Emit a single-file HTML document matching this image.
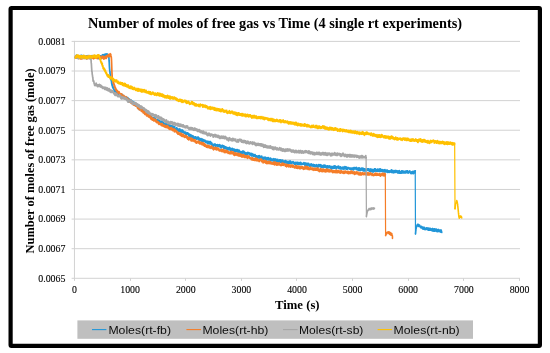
<!DOCTYPE html>
<html lang="en">
<head>
<meta charset="utf-8">
<title>Number of moles of free gas vs Time</title>
<style>
html,body{margin:0;padding:0;background:#fff;}
body{width:550px;height:353px;overflow:hidden;}
svg{display:block;}
.serif{font-family:"Liberation Serif",serif;}
.sans{font-family:"Liberation Sans",sans-serif;}
</style>
</head>
<body>
<svg width="550" height="353" viewBox="0 0 550 353">
<rect x="0" y="0" width="550" height="353" fill="#ffffff"/>
<rect x="10.6" y="8" width="529.3" height="337.9" rx="0.9" ry="0.9" fill="#ffffff" stroke="#000000" stroke-width="4.2"/>
<g stroke="#d2d2d2" stroke-width="1" fill="none">
<line x1="71.6" y1="41.4" x2="520.0" y2="41.4"/>
<line x1="71.6" y1="71.01" x2="520.0" y2="71.01"/>
<line x1="71.6" y1="100.62" x2="520.0" y2="100.62"/>
<line x1="71.6" y1="130.24" x2="520.0" y2="130.24"/>
<line x1="71.6" y1="159.85" x2="520.0" y2="159.85"/>
<line x1="71.6" y1="189.46" x2="520.0" y2="189.46"/>
<line x1="71.6" y1="219.08" x2="520.0" y2="219.08"/>
<line x1="71.6" y1="248.69" x2="520.0" y2="248.69"/>
<line x1="71.6" y1="278.3" x2="520.0" y2="278.3"/>
<line x1="74.45" y1="40.9" x2="74.45" y2="278.8"/>
<line x1="74.5" y1="278.3" x2="74.5" y2="280.9"/>
<line x1="130.5" y1="278.3" x2="130.5" y2="280.9"/>
<line x1="185.5" y1="278.3" x2="185.5" y2="280.9"/>
<line x1="241.5" y1="278.3" x2="241.5" y2="280.9"/>
<line x1="296.5" y1="278.3" x2="296.5" y2="280.9"/>
<line x1="352.5" y1="278.3" x2="352.5" y2="280.9"/>
<line x1="408.5" y1="278.3" x2="408.5" y2="280.9"/>
<line x1="463.5" y1="278.3" x2="463.5" y2="280.9"/>
<line x1="519.5" y1="278.3" x2="519.5" y2="280.9"/>
</g>
<g fill="none" stroke-width="1.7" stroke-linejoin="round" stroke-linecap="round">
<polyline points="75.40,57.4 75.57,58.1 75.74,57.6 75.91,56.0 76.08,56.0 76.25,57.4 76.42,55.1 76.59,57.3 76.76,57.3 76.93,56.5 77.10,56.2 77.27,56.3 77.44,56.3 77.61,56.9 77.78,57.1 77.95,57.3 78.12,58.5 78.29,58.0 78.46,57.5 78.63,58.5 78.80,56.6 78.97,56.5 79.14,57.7 79.31,56.2 79.48,56.2 79.65,57.4 79.82,57.2 79.99,58.3 80.16,57.5 80.33,57.2 80.50,57.1 80.67,56.3 80.84,55.6 81.01,56.0 81.18,57.2 81.35,55.8 81.52,56.2 81.69,55.3 81.86,57.5 82.03,55.7 82.20,56.1 82.37,57.7 82.54,56.7 82.71,57.5 82.88,56.9 83.05,57.2 83.22,55.5 83.39,56.7 83.56,56.7 83.73,57.7 83.90,56.5 84.07,57.2 84.24,55.9 84.41,56.8 84.58,56.6 84.75,56.2 84.92,57.9 85.09,56.8 85.26,58.4 85.43,57.5 85.60,57.5 85.77,57.6 85.94,57.7 86.11,56.3 86.28,57.0 86.45,56.4 86.62,56.7 86.79,55.9 86.96,58.1 87.13,56.1 87.30,57.2 87.47,56.2 87.64,57.6 87.81,57.1 87.98,55.7 88.15,57.7 88.32,58.1 88.49,58.0 88.66,57.2 88.83,56.1 89.00,56.1 89.17,58.0 89.34,57.0 89.51,56.1 89.68,58.0 89.85,57.5 90.02,57.4 90.19,57.1 90.36,57.3 90.53,56.9 90.70,56.4 90.87,58.6 91.04,57.4 91.21,57.5 91.38,56.8 91.55,57.8 91.72,55.8 91.89,56.6 92.06,55.7 92.23,55.9 92.40,58.1 92.57,57.3 92.74,56.6 92.91,56.7 93.08,57.6 93.25,56.1 93.42,56.7 93.59,57.0 93.76,56.1 93.93,56.6 94.10,57.3 94.27,57.8 94.44,55.9 94.61,58.0 94.78,55.7 94.95,57.7 95.12,58.0 95.29,56.2 95.46,57.0 95.63,58.1 95.80,56.0 95.97,57.7 96.14,58.1 96.31,57.4 96.48,58.0 96.65,56.6 96.82,56.5 96.99,56.8 97.16,56.2 97.33,56.6 97.50,58.1 97.67,57.1 97.84,56.6 98.01,56.5 98.18,58.3 98.35,57.1 98.52,58.6 98.69,57.5 98.86,57.5 99.03,58.5 99.20,58.0 99.37,57.5 99.54,57.0 99.71,58.1 99.88,56.9 100.05,58.2 100.22,55.9 100.39,56.9 100.56,57.1 100.73,58.1 100.90,56.2 101.07,57.6 101.24,57.2 101.41,57.2 101.58,56.9 101.75,57.7 101.92,55.9 102.09,56.0 102.26,55.4 102.43,54.8 102.60,55.2 102.77,56.9 102.94,56.6 103.11,54.6 103.28,55.7 103.45,55.3 103.62,55.6 103.79,55.8 103.96,54.9 104.13,56.6 104.30,55.3 104.47,55.7 104.64,55.7 104.81,54.5 104.98,54.1 105.15,55.0 105.32,55.9 105.49,56.0 105.66,55.7 105.83,54.1 106.00,56.1 106.17,55.8 106.34,55.9 106.51,55.0 106.68,56.1 106.85,53.9 107.02,53.9 107.19,54.1 107.36,54.8 107.53,55.0 107.70,55.0 107.87,56.2 108.04,54.9 108.21,56.6 108.38,55.8 108.55,57.5 108.72,56.3 108.89,57.6 109.06,60.7 109.23,62.4 109.40,66.3 109.57,68.6 109.74,70.4 109.91,71.1 110.08,73.8 110.25,74.0 110.42,77.3 110.59,78.9 110.76,79.6 110.93,78.4 111.10,80.0 111.27,80.7 111.44,80.9 111.61,82.9 111.78,84.0 111.95,83.4 112.12,85.5 112.29,86.0 112.46,84.8 112.63,87.0 112.80,87.8 112.97,86.4 113.14,87.7 113.31,88.2 113.48,88.4 113.65,87.5 113.82,89.3 113.99,89.7 114.16,90.6 114.33,90.9 114.50,90.0 114.67,91.3 114.84,91.8 115.01,92.1 115.18,90.3 115.35,90.0 115.52,91.8 115.69,90.8 115.86,91.9 116.03,93.2 116.20,92.0 116.37,91.9 116.54,92.6 116.71,93.2 116.88,91.9 117.05,92.7 117.22,92.1 117.39,93.6 117.56,94.1 117.73,93.1 117.90,93.2 118.07,93.8 118.24,93.1 118.41,93.3 118.58,93.7 118.75,94.2 118.92,93.4 119.09,95.2 119.26,95.0 119.43,94.4 119.60,93.9 119.77,95.8 119.94,94.2 120.11,94.1 120.28,94.1 120.45,93.9 120.62,96.0 120.79,94.3 120.96,94.4 121.13,95.8 121.30,95.3 121.47,94.3 121.64,95.0 121.81,96.3 121.98,95.1 122.15,96.1 122.32,94.7 122.49,96.5 122.66,96.8 122.83,97.1 123.00,96.8 123.17,96.2 123.34,95.5 123.51,96.8 123.68,97.5 123.85,96.2 124.02,96.5 124.19,97.4 124.36,98.0 124.53,98.5 124.70,96.6 124.87,96.8 125.04,98.4 125.21,97.9 125.38,98.1 125.55,98.8 125.72,98.6 125.89,98.3 126.06,98.2 126.23,97.4 126.40,98.2 126.57,97.3 126.74,99.0 126.91,99.2 127.08,99.3 127.25,98.6 127.42,98.4 127.59,98.5 127.76,97.5 127.93,99.6 128.10,98.9 128.27,98.6 128.44,99.1 128.61,99.8 128.78,99.1 128.95,100.4 129.12,100.8 129.29,99.6 129.46,99.0 129.63,100.8 129.80,101.5 129.97,99.5 130.14,101.1 130.31,101.5 130.48,101.9 130.65,99.9 130.82,99.9 130.99,102.3 131.16,100.1 131.33,100.4 131.50,101.6 131.67,101.5 131.84,102.5 132.01,101.2 132.18,103.3 132.35,101.7 132.52,103.3 132.69,101.6 132.86,102.7 133.03,101.7 133.20,102.4 133.37,102.5 133.54,103.6 133.71,103.0 133.88,102.0 134.05,104.5 134.22,104.3 134.39,104.4 134.56,102.7 134.73,103.2 134.90,103.0 135.07,102.9 135.24,103.0 135.41,104.4 135.58,103.7 135.75,104.0 135.92,105.9 136.09,105.1 136.26,104.4 136.43,105.8 136.60,105.0 136.77,105.9 136.94,105.4 137.11,106.2 137.28,106.7 137.45,106.6 137.62,106.4 137.79,107.5 137.96,107.9 138.13,106.2 138.30,106.2 138.47,106.3 138.64,108.8 138.81,108.9 138.98,107.2 139.15,109.4 139.32,107.6 139.49,108.5 139.66,108.6 139.83,109.7 140.00,107.4 140.17,108.1 140.34,108.8 140.51,107.4 140.68,107.9 140.85,108.5 141.02,109.7 141.19,109.5 141.36,109.8 141.53,109.9 141.70,110.0 141.87,110.6 142.04,110.5 142.21,110.9 142.38,109.8 142.55,109.5 142.72,111.0 142.89,109.5 143.06,111.5 143.23,110.8 143.40,110.3 143.57,112.2 143.74,110.5 143.91,111.6 144.08,110.7 144.25,113.1 144.42,112.2 144.59,112.9 144.76,111.6 144.93,113.1 145.10,113.0 145.27,113.0 145.44,113.9 145.61,112.6 145.78,112.7 145.95,113.5 146.12,114.0 146.29,112.8 146.46,113.9 146.63,112.8 146.80,113.8 146.97,114.5 147.14,112.8 147.31,114.6 147.48,112.9 147.65,115.4 147.82,114.2 147.99,114.2 148.16,115.1 148.33,114.7 148.50,115.3 148.67,113.7 148.84,115.0 149.01,115.1 149.18,116.1 149.35,113.9 149.52,115.1 149.69,115.7 149.86,115.7 150.03,114.6 150.20,116.2 150.37,115.4 150.54,115.5 150.71,117.4 150.88,115.7 151.05,116.5 151.22,117.3 151.39,117.3 151.56,117.0 151.73,117.8 151.90,117.1 152.07,117.6 152.24,118.3 152.41,118.1 152.58,118.2 152.75,117.7 152.92,118.1 153.09,117.7 153.26,118.6 153.43,117.7 153.60,118.0 153.77,118.8 153.94,118.3 154.11,117.9 154.28,119.3 154.45,118.2 154.62,119.6 154.79,119.5 154.96,118.8 155.13,119.7 155.30,118.2 155.47,119.4 155.64,120.9 155.81,120.4 155.98,120.5 156.15,121.0 156.32,121.1 156.49,120.9 156.66,120.4 156.83,119.7 157.00,119.9 157.17,119.8 157.34,120.1 157.51,121.4 157.68,119.7 157.85,119.9 158.02,119.7 158.19,120.4 158.36,121.5 158.53,121.6 158.70,120.6 158.87,120.6 159.04,122.5 159.21,121.7 159.38,122.4 159.55,120.9 159.72,123.0 159.89,121.6 160.06,122.0 160.23,121.2 160.40,121.7 160.57,122.7 160.74,122.6 160.91,121.7 161.08,122.4 161.25,121.7 161.42,121.5 161.59,122.1 161.76,121.3 161.93,121.7 162.10,122.8 162.27,123.1 162.44,121.3 162.61,123.2 162.78,123.6 162.95,122.8 163.12,122.0 163.29,123.8 163.46,122.8 163.63,123.9 163.80,123.4 163.97,124.2 164.14,123.3 164.31,124.0 164.48,124.3 164.65,124.6 164.82,123.7 164.99,125.7 165.16,124.1 165.33,124.1 165.50,124.0 165.67,123.5 165.84,124.4 166.01,125.3 166.18,125.1 166.35,123.8 166.52,123.6 166.69,124.2 166.86,125.4 167.03,124.8 167.20,126.1 167.37,125.4 167.54,125.4 167.71,125.8 167.88,125.8 168.05,124.7 168.22,124.4 168.39,124.9 168.56,125.0 168.73,124.2 168.90,125.1 169.07,125.8 169.24,124.6 169.41,124.9 169.58,125.2 169.75,125.6 169.92,127.6 170.09,125.3 170.26,125.8 170.43,125.8 170.60,126.6 170.77,125.4 170.94,126.5 171.11,125.7 171.28,126.0 171.45,127.3 171.62,125.8 171.79,126.9 171.96,126.3 172.13,126.4 172.30,127.4 172.47,125.8 172.64,127.9 172.81,128.0 172.98,127.6 173.15,126.1 173.32,127.9 173.49,127.8 173.66,128.3 173.83,126.9 174.00,128.9 174.17,128.8 174.34,126.8 174.51,127.4 174.68,126.7 174.85,128.8 175.02,129.1 175.19,129.4 175.36,128.5 175.53,128.8 175.70,129.0 175.87,128.8 176.04,129.9 176.21,129.0 176.38,128.4 176.55,128.9 176.72,127.6 176.89,129.6 177.06,129.6 177.23,129.0 177.40,130.3 177.57,130.3 177.74,129.4 177.91,128.8 178.08,129.1 178.25,129.3 178.42,129.7 178.59,130.1 178.76,131.4 178.93,129.7 179.10,131.3 179.27,130.7 179.44,131.1 179.61,129.9 179.78,128.9 179.95,131.0 180.12,129.8 180.29,129.8 180.46,131.7 180.63,131.5 180.80,130.4 180.97,130.6 181.14,132.3 181.31,130.6 181.48,131.7 181.65,130.2 181.82,132.0 181.99,130.2 182.16,131.2 182.33,130.0 182.50,131.4 182.67,132.2 182.84,130.3 183.01,130.9 183.18,132.3 183.35,132.0 183.52,131.4 183.69,132.3 183.86,132.0 184.03,133.2 184.20,131.8 184.37,133.1 184.54,132.9 184.71,133.3 184.88,132.4 185.05,133.5 185.22,133.6 185.39,132.9 185.56,132.0 185.73,134.5 185.90,133.9 186.07,132.6 186.24,134.0 186.41,132.9 186.58,133.4 186.75,134.4 186.92,133.4 187.09,133.1 187.26,133.2 187.43,132.8 187.60,133.2 187.77,133.5 187.94,133.3 188.11,133.2 188.28,134.3 188.45,133.8 188.62,135.3 188.79,135.9 188.96,134.3 189.13,135.3 189.30,135.2 189.47,134.2 189.64,134.4 189.81,136.5 189.98,135.5 190.15,136.5 190.32,134.7 190.49,136.3 190.66,137.1 190.83,137.2 191.00,135.0 191.17,136.4 191.34,136.0 191.51,137.0 191.68,135.3 191.85,135.9 192.02,137.4 192.19,136.6 192.36,136.6 192.53,138.1 192.70,136.5 192.87,135.9 193.04,136.9 193.21,136.3 193.38,136.2 193.55,137.5 193.72,138.6 193.89,137.7 194.06,137.9 194.23,137.1 194.40,137.8 194.57,138.3 194.74,137.9 194.91,138.5 195.08,137.8 195.25,136.9 195.42,137.8 195.59,137.6 195.76,136.9 195.93,138.2 196.10,138.9 196.27,137.4 196.44,138.6 196.61,139.2 196.78,138.3 196.95,137.9 197.12,138.0 197.29,138.3 197.46,138.6 197.63,138.1 197.80,137.0 197.97,138.8 198.14,139.2 198.31,137.2 198.48,137.7 198.65,137.7 198.82,139.7 198.99,140.1 199.16,138.1 199.33,139.0 199.50,138.8 199.67,139.6 199.84,140.8 200.01,138.6 200.18,138.9 200.35,139.6 200.52,139.7 200.69,140.2 200.86,139.4 201.03,138.7 201.20,139.4 201.37,141.1 201.54,140.6 201.71,139.1 201.88,140.9 202.05,139.7 202.22,141.0 202.39,139.1 202.56,141.5 202.73,139.8 202.90,140.7 203.07,141.3 203.24,140.9 203.41,140.0 203.58,139.9 203.75,140.3 203.92,139.7 204.09,140.2 204.26,140.1 204.43,141.1 204.60,140.9 204.77,141.6 204.94,140.9 205.11,140.4 205.28,141.2 205.45,142.3 205.62,141.0 205.79,141.4 205.96,142.2 206.13,141.3 206.30,142.5 206.47,142.7 206.64,141.2 206.81,142.4 206.98,141.3 207.15,141.2 207.32,142.2 207.49,142.7 207.66,143.7 207.83,141.7 208.00,143.1 208.17,142.4 208.34,141.5 208.51,143.7 208.68,143.0 208.85,141.6 209.02,143.7 209.19,141.8 209.36,141.8 209.53,142.4 209.70,143.9 209.87,141.5 210.04,143.8 210.21,143.0 210.38,141.6 210.55,142.9 210.72,142.8 210.89,143.2 211.06,143.7 211.23,143.7 211.40,144.7 211.57,142.7 211.74,144.6 211.91,143.7 212.08,144.8 212.25,145.3 212.42,145.7 212.59,144.0 212.76,144.7 212.93,146.0 213.10,146.1 213.27,144.6 213.44,146.1 213.61,144.6 213.78,144.5 213.95,145.5 214.12,144.8 214.29,144.7 214.46,144.6 214.63,144.7 214.80,144.1 214.97,143.9 215.14,145.8 215.31,145.4 215.48,145.8 215.65,146.2 215.82,144.8 215.99,144.8 216.16,144.8 216.33,144.8 216.50,146.0 216.67,144.9 216.84,144.8 217.01,145.7 217.18,144.6 217.35,144.6 217.52,146.3 217.69,146.5 217.86,145.4 218.03,146.4 218.20,144.8 218.37,145.8 218.54,146.3 218.71,145.4 218.88,145.6 219.05,146.2 219.22,146.0 219.39,144.8 219.56,146.2 219.73,144.6 219.90,147.0 220.07,145.1 220.24,145.4 220.41,145.4 220.58,147.6 220.75,145.9 220.92,146.9 221.09,148.0 221.26,148.0 221.43,145.6 221.60,146.8 221.77,147.0 221.94,147.2 222.11,146.1 222.28,146.1 222.45,145.3 222.62,145.4 222.79,146.8 222.96,145.6 223.13,146.0 223.30,146.4 223.47,145.9 223.64,145.9 223.81,148.4 223.98,147.3 224.15,146.7 224.32,148.1 224.49,146.3 224.66,146.9 224.83,148.9 225.00,148.8 225.17,148.2 225.34,146.9 225.51,147.6 225.68,146.9 225.85,147.4 226.02,147.0 226.19,147.2 226.36,148.6 226.53,147.3 226.70,147.5 226.87,149.5 227.04,148.1 227.21,148.2 227.38,147.7 227.55,149.7 227.72,149.4 227.89,149.2 228.06,149.3 228.23,147.9 228.40,148.2 228.57,149.0 228.74,149.8 228.91,149.3 229.08,148.8 229.25,148.5 229.42,147.3 229.59,149.7 229.76,147.7 229.93,148.0 230.10,149.7 230.27,150.2 230.44,150.3 230.61,149.6 230.78,148.9 230.95,148.6 231.12,150.7 231.29,151.0 231.46,149.0 231.63,150.6 231.80,149.4 231.97,149.2 232.14,149.7 232.31,148.4 232.48,149.5 232.65,148.8 232.82,150.1 232.99,149.6 233.16,150.5 233.33,150.6 233.50,149.2 233.67,149.2 233.84,151.1 234.01,150.1 234.18,149.2 234.35,149.3 234.52,151.8 234.69,150.9 234.86,149.5 235.03,150.7 235.20,150.6 235.37,150.4 235.54,151.7 235.71,151.7 235.88,149.5 236.05,149.6 236.22,150.3 236.39,151.4 236.56,150.9 236.73,151.2 236.90,150.9 237.07,149.9 237.24,151.5 237.41,149.5 237.58,151.3 237.75,150.1 237.92,150.9 238.09,152.3 238.26,151.3 238.43,150.2 238.60,151.2 238.77,151.9 238.94,150.4 239.11,150.9 239.28,150.4 239.45,151.9 239.62,151.7 239.79,152.1 239.96,151.7 240.13,152.7 240.30,151.5 240.47,153.4 240.64,153.5 240.81,152.3 240.98,152.2 241.15,153.3 241.32,151.8 241.49,153.1 241.66,151.8 241.83,152.9 242.00,151.9 242.17,152.5 242.34,153.3 242.51,151.0 242.68,152.9 242.85,152.2 243.02,151.8 243.19,151.7 243.36,151.1 243.53,151.6 243.70,152.6 243.87,151.3 244.04,152.9 244.21,153.7 244.38,153.8 244.55,153.8 244.72,153.7 244.89,152.3 245.06,154.6 245.23,152.7 245.40,154.6 245.57,154.7 245.74,154.0 245.91,153.8 246.08,153.0 246.25,153.8 246.42,153.3 246.59,152.8 246.76,152.9 246.93,154.6 247.10,154.9 247.27,152.8 247.44,152.5 247.61,153.1 247.78,152.7 247.95,152.7 248.12,153.6 248.29,153.1 248.46,153.1 248.63,152.6 248.80,153.9 248.97,153.0 249.14,153.5 249.31,153.7 249.48,155.0 249.65,153.3 249.82,154.5 249.99,153.4 250.16,155.0 250.33,153.7 250.50,154.1 250.67,155.1 250.84,154.7 251.01,153.3 251.18,153.6 251.35,155.9 251.52,153.5 251.69,154.3 251.86,156.0 252.03,153.7 252.20,154.1 252.37,154.2 252.54,153.9 252.71,155.0 252.88,155.4 253.05,154.8 253.22,154.3 253.39,156.3 253.56,156.4 253.73,155.8 253.90,154.7 254.07,155.8 254.24,155.9 254.41,155.3 254.58,156.4 254.75,155.2 254.92,155.5 255.09,154.6 255.26,155.8 255.43,156.5 255.60,156.5 255.77,155.5 255.94,157.5 256.11,157.0 256.28,156.4 256.45,156.4 256.62,157.5 256.79,155.9 256.96,157.1 257.13,157.3 257.30,156.8 257.47,157.7 257.64,156.6 257.81,156.6 257.98,156.1 258.15,157.8 258.32,156.2 258.49,157.1 258.66,156.4 258.83,157.8 259.00,157.9 259.17,155.6 259.34,158.2 259.51,157.3 259.68,156.0 259.85,157.1 260.02,156.0 260.19,157.4 260.36,156.5 260.53,157.0 260.70,156.9 260.87,157.7 261.04,158.3 261.21,158.6 261.38,157.0 261.55,157.6 261.72,156.2 261.89,157.3 262.06,159.0 262.23,157.0 262.40,159.1 262.57,158.7 262.74,157.8 262.91,159.1 263.08,157.9 263.25,159.5 263.42,157.4 263.59,157.5 263.76,159.1 263.93,158.3 264.10,157.4 264.27,158.3 264.44,157.7 264.61,158.2 264.78,158.7 264.95,159.0 265.12,157.0 265.29,158.5 265.46,159.7 265.63,158.5 265.80,159.6 265.97,158.0 266.14,160.2 266.31,159.5 266.48,160.2 266.65,159.9 266.82,159.9 266.99,157.7 267.16,159.3 267.33,157.9 267.50,158.1 267.67,158.3 267.84,159.1 268.01,159.2 268.18,160.0 268.35,157.6 268.52,158.0 268.69,158.5 268.86,159.7 269.03,159.1 269.20,159.1 269.37,159.9 269.54,159.8 269.71,158.9 269.88,158.4 270.05,159.4 270.22,160.4 270.39,159.7 270.56,158.2 270.73,159.2 270.90,159.1 271.07,159.6 271.24,159.7 271.41,160.6 271.58,159.1 271.75,159.3 271.92,159.8 272.09,160.6 272.26,160.1 272.43,159.5 272.60,160.4 272.77,159.5 272.94,160.8 273.11,159.1 273.28,158.7 273.45,160.6 273.62,159.3 273.79,160.8 273.96,160.3 274.13,160.2 274.30,159.1 274.47,161.0 274.64,159.1 274.81,161.3 274.98,161.0 275.15,159.5 275.32,159.0 275.49,161.0 275.66,160.0 275.83,159.2 276.00,160.3 276.17,159.8 276.34,160.3 276.51,160.9 276.68,161.7 276.85,161.4 277.02,159.7 277.19,160.5 277.36,160.5 277.53,161.7 277.70,159.4 277.87,160.5 278.04,161.6 278.21,160.4 278.38,160.2 278.55,161.1 278.72,160.6 278.89,162.2 279.06,160.0 279.23,160.3 279.40,159.9 279.57,161.5 279.74,160.4 279.91,162.0 280.08,162.0 280.25,162.2 280.42,160.4 280.59,159.8 280.76,160.8 280.93,162.3 281.10,161.8 281.27,160.0 281.44,161.8 281.61,162.4 281.78,162.5 281.95,161.9 282.12,162.2 282.29,162.1 282.46,160.9 282.63,160.2 282.80,162.0 282.97,160.6 283.14,161.3 283.31,163.1 283.48,162.0 283.65,162.0 283.82,163.1 283.99,161.4 284.16,163.3 284.33,163.0 284.50,161.6 284.67,161.5 284.84,160.9 285.01,162.9 285.18,161.0 285.35,160.5 285.52,162.9 285.69,162.2 285.86,162.6 286.03,162.9 286.20,161.2 286.37,161.4 286.54,162.5 286.71,161.4 286.88,162.6 287.05,163.2 287.22,163.0 287.39,162.9 287.56,161.5 287.73,162.0 287.90,163.8 288.07,161.8 288.24,162.9 288.41,161.6 288.58,163.8 288.75,161.7 288.92,162.2 289.09,162.5 289.26,162.8 289.43,163.2 289.60,162.6 289.77,161.6 289.94,160.9 290.11,162.6 290.28,163.4 290.45,161.0 290.62,163.0 290.79,161.5 290.96,162.2 291.13,162.4 291.30,162.7 291.47,163.7 291.64,163.0 291.81,162.3 291.98,163.1 292.15,162.4 292.32,162.2 292.49,162.0 292.66,162.3 292.83,161.8 293.00,161.7 293.17,161.6 293.34,162.4 293.51,162.1 293.68,163.5 293.85,163.6 294.02,162.4 294.19,163.3 294.36,164.1 294.53,162.8 294.70,163.5 294.87,163.3 295.04,163.8 295.21,164.6 295.38,162.4 295.55,164.4 295.72,163.6 295.89,163.8 296.06,163.3 296.23,163.9 296.40,162.6 296.57,163.7 296.74,162.6 296.91,163.4 297.08,163.9 297.25,162.8 297.42,162.4 297.59,164.4 297.76,164.4 297.93,164.0 298.10,163.1 298.27,164.0 298.44,162.5 298.61,164.0 298.78,163.9 298.95,164.0 299.12,163.6 299.29,163.0 299.46,164.3 299.63,163.6 299.80,164.2 299.97,163.1 300.14,162.4 300.31,163.6 300.48,163.8 300.65,164.7 300.82,164.7 300.99,162.7 301.16,164.6 301.33,163.3 301.50,164.5 301.67,163.6 301.84,163.4 302.01,163.8 302.18,163.8 302.35,164.2 302.52,164.0 302.69,164.0 302.86,163.3 303.03,164.1 303.20,163.3 303.37,164.1 303.54,163.8 303.71,164.1 303.88,162.6 304.05,163.9 304.22,163.2 304.39,163.7 304.56,163.0 304.73,164.5 304.90,165.2 305.07,163.8 305.24,163.2 305.41,164.5 305.58,163.3 305.75,165.3 305.92,163.3 306.09,164.0 306.26,164.4 306.43,163.4 306.60,164.0 306.77,163.9 306.94,165.1 307.11,165.8 307.28,164.1 307.45,165.1 307.62,163.4 307.79,164.4 307.96,164.0 308.13,163.6 308.30,165.0 308.47,164.9 308.64,163.4 308.81,163.9 308.98,165.4 309.15,166.0 309.32,165.1 309.49,165.9 309.66,166.2 309.83,165.6 310.00,165.4 310.17,164.3 310.34,164.7 310.51,165.4 310.68,166.1 310.85,164.5 311.02,164.8 311.19,163.9 311.36,165.7 311.53,165.1 311.70,166.0 311.87,164.5 312.04,165.6 312.21,165.7 312.38,165.2 312.55,164.5 312.72,165.1 312.89,166.1 313.06,164.7 313.23,164.4 313.40,165.4 313.57,164.7 313.74,166.1 313.91,166.2 314.08,166.5 314.25,166.3 314.42,165.9 314.59,164.8 314.76,166.6 314.93,166.4 315.10,166.5 315.27,166.4 315.44,166.7 315.61,165.3 315.78,166.2 315.95,165.8 316.12,165.2 316.29,165.2 316.46,164.7 316.63,165.7 316.80,165.4 316.97,165.6 317.14,166.8 317.31,166.4 317.48,166.4 317.65,167.2 317.82,165.2 317.99,165.9 318.16,164.8 318.33,165.5 318.50,166.9 318.67,164.6 318.84,166.2 319.01,166.5 319.18,165.5 319.35,166.2 319.52,165.2 319.69,165.0 319.86,165.5 320.03,164.7 320.20,165.0 320.37,165.1 320.54,166.9 320.71,165.3 320.88,165.2 321.05,167.1 321.22,165.2 321.39,167.4 321.56,167.2 321.73,166.8 321.90,166.3 322.07,165.7 322.24,165.5 322.41,165.5 322.58,166.1 322.75,166.1 322.92,167.4 323.09,166.4 323.26,167.5 323.43,166.8 323.60,165.3 323.77,166.4 323.94,165.4 324.11,165.1 324.28,167.5 324.45,166.0 324.62,165.6 324.79,165.4 324.96,166.9 325.13,166.5 325.30,165.3 325.47,167.2 325.64,166.0 325.81,167.4 325.98,166.7 326.15,166.8 326.32,166.7 326.49,167.3 326.66,168.2 326.83,167.7 327.00,165.8 327.17,166.9 327.34,166.2 327.51,165.8 327.68,166.0 327.85,166.1 328.02,167.9 328.19,167.4 328.36,167.6 328.53,167.2 328.70,166.2 328.87,166.4 329.04,166.6 329.21,166.2 329.38,166.6 329.55,167.6 329.72,165.9 329.89,166.5 330.06,167.1 330.23,167.8 330.40,167.8 330.57,168.1 330.74,166.6 330.91,166.9 331.08,167.3 331.25,167.3 331.42,168.5 331.59,169.1 331.76,168.2 331.93,166.4 332.10,166.9 332.27,168.1 332.44,168.3 332.61,167.4 332.78,166.8 332.95,166.8 333.12,167.6 333.29,168.3 333.46,167.0 333.63,166.6 333.80,166.0 333.97,166.3 334.14,168.1 334.31,167.4 334.48,168.2 334.65,165.8 334.82,166.6 334.99,167.8 335.16,167.6 335.33,166.2 335.50,167.2 335.67,167.9 335.84,168.1 336.01,167.5 336.18,166.9 336.35,168.9 336.52,167.6 336.69,168.3 336.86,167.8 337.03,166.7 337.20,167.1 337.37,166.6 337.54,166.9 337.71,166.8 337.88,167.3 338.05,166.9 338.22,166.9 338.39,168.1 338.56,166.1 338.73,166.3 338.90,168.2 339.07,167.6 339.24,167.4 339.41,167.0 339.58,167.8 339.75,167.1 339.92,168.8 340.09,168.8 340.26,167.5 340.43,166.8 340.60,169.0 340.77,167.4 340.94,168.4 341.11,168.9 341.28,168.8 341.45,168.9 341.62,168.0 341.79,168.9 341.96,167.8 342.13,167.3 342.30,167.9 342.47,167.5 342.64,168.7 342.81,168.8 342.98,167.0 343.15,167.1 343.32,167.7 343.49,167.9 343.66,169.2 343.83,169.1 344.00,169.1 344.17,168.5 344.34,168.3 344.51,167.2 344.68,167.5 344.85,166.6 345.02,168.8 345.19,167.4 345.36,167.0 345.53,167.6 345.70,167.6 345.87,168.7 346.04,166.8 346.21,167.3 346.38,169.1 346.55,169.0 346.72,168.5 346.89,168.5 347.06,167.7 347.23,169.5 347.40,169.2 347.57,168.6 347.74,167.7 347.91,167.8 348.08,168.3 348.25,168.2 348.42,167.6 348.59,168.6 348.76,168.7 348.93,168.3 349.10,168.5 349.27,168.4 349.44,168.5 349.61,169.1 349.78,168.7 349.95,167.8 350.12,169.3 350.29,168.5 350.46,168.4 350.63,169.0 350.80,169.2 350.97,169.5 351.14,169.5 351.31,169.2 351.48,169.4 351.65,168.0 351.82,169.5 351.99,168.4 352.16,168.5 352.33,168.2 352.50,168.9 352.67,168.0 352.84,169.6 353.01,169.8 353.18,169.8 353.35,168.1 353.52,169.3 353.69,169.8 353.86,167.6 354.03,167.9 354.20,168.0 354.37,168.5 354.54,167.6 354.71,168.5 354.88,168.0 355.05,168.8 355.22,168.5 355.39,168.9 355.56,167.8 355.73,169.0 355.90,169.1 356.07,169.0 356.24,167.3 356.41,169.6 356.58,168.6 356.75,167.9 356.92,168.4 357.09,168.7 357.26,168.9 357.43,168.3 357.60,168.5 357.77,168.9 357.94,170.1 358.11,169.2 358.28,168.1 358.45,169.2 358.62,168.5 358.79,167.9 358.96,170.4 359.13,168.6 359.30,169.3 359.47,168.8 359.64,168.1 359.81,170.3 359.98,170.5 360.15,168.6 360.32,169.3 360.49,169.2 360.66,168.8 360.83,170.1 361.00,170.3 361.17,170.2 361.34,169.9 361.51,168.1 361.68,168.5 361.85,169.2 362.02,169.7 362.19,168.9 362.36,169.1 362.53,170.2 362.70,168.2 362.87,168.9 363.04,169.0 363.21,170.9 363.38,169.0 363.55,168.6 363.72,169.6 363.89,170.3 364.06,169.0 364.23,170.8 364.40,169.1 364.57,170.5 364.74,169.0 364.91,170.9 365.08,169.1 365.25,170.5 365.42,170.9 365.59,169.5 365.76,169.1 365.93,170.4 366.10,170.2 366.27,170.0 366.44,170.6 366.61,169.6 366.78,169.5 366.95,169.4 367.12,169.3 367.29,169.3 367.46,168.8 367.63,169.2 367.80,169.2 367.97,169.2 368.14,170.6 368.31,168.8 368.48,168.9 368.65,169.7 368.82,169.2 368.99,169.0 369.16,169.4 369.33,169.9 369.50,170.4 369.67,171.2 369.84,170.9 370.01,169.7 370.18,169.8 370.35,169.7 370.52,169.2 370.69,171.1 370.86,168.8 371.03,169.2 371.20,170.5 371.37,170.5 371.54,169.8 371.71,171.6 371.88,170.3 372.05,170.8 372.22,169.5 372.39,171.6 372.56,169.6 372.73,170.4 372.90,171.7 373.07,172.0 373.24,171.9 373.41,171.8 373.58,170.2 373.75,169.5 373.92,170.5 374.09,169.3 374.26,171.5 374.43,168.9 374.60,169.7 374.77,169.3 374.94,168.8 375.11,170.0 375.28,168.9 375.45,171.1 375.62,170.5 375.79,169.7 375.96,170.9 376.13,170.8 376.30,169.5 376.47,170.9 376.64,171.1 376.81,170.3 376.98,169.6 377.15,171.0 377.32,171.2 377.49,169.7 377.66,169.1 377.83,171.2 378.00,170.7 378.17,169.6 378.34,170.5 378.51,169.9 378.68,171.4 378.85,169.9 379.02,169.5 379.19,169.0 379.36,169.8 379.53,171.5 379.70,169.5 379.87,170.1 380.04,171.4 380.21,168.8 380.38,169.6 380.55,171.0 380.72,169.2 380.89,171.5 381.06,171.4 381.23,169.7 381.40,171.0 381.57,170.9 381.74,171.2 381.91,170.1 382.08,170.3 382.25,169.9 382.42,170.0 382.59,169.7 382.76,171.7 382.93,171.7 383.10,170.3 383.27,171.2 383.44,170.6 383.61,170.0 383.78,170.2 383.95,171.8 384.12,170.2 384.29,170.8 384.46,171.8 384.63,170.2 384.80,171.5 384.97,169.7 385.14,171.3 385.31,171.5 385.48,171.5 385.65,171.9 385.82,171.2 385.99,172.0 386.16,170.3 386.33,171.0 386.50,170.3 386.67,170.1 386.84,171.1 387.01,171.8 387.18,172.0 387.35,170.0 387.52,172.4 387.69,170.7 387.86,170.8 388.03,172.2 388.20,172.3 388.37,171.9 388.54,170.9 388.71,171.2 388.88,172.2 389.05,170.9 389.22,172.1 389.39,172.0 389.56,171.2 389.73,172.4 389.90,171.0 390.07,172.0 390.24,171.7 390.41,170.9 390.58,171.3 390.75,171.4 390.92,171.2 391.09,170.0 391.26,172.3 391.43,172.2 391.60,169.8 391.77,172.3 391.94,171.3 392.11,170.4 392.28,172.3 392.45,171.3 392.62,172.1 392.79,172.5 392.96,171.8 393.13,170.6 393.30,172.6 393.47,172.2 393.64,172.8 393.81,171.1 393.98,172.4 394.15,172.7 394.32,171.4 394.49,171.7 394.66,171.6 394.83,170.7 395.00,171.3 395.17,171.4 395.34,170.7 395.51,172.3 395.68,171.3 395.85,171.5 396.02,170.6 396.19,170.7 396.36,171.6 396.53,170.9 396.70,171.3 396.87,171.0 397.04,171.6 397.21,172.7 397.38,171.2 397.55,172.0 397.72,172.5 397.89,171.0 398.06,173.2 398.23,171.9 398.40,171.1 398.57,172.4 398.74,172.5 398.91,172.0 399.08,172.8 399.25,170.7 399.42,172.0 399.59,172.7 399.76,173.2 399.93,172.6 400.10,172.5 400.27,171.9 400.44,172.3 400.61,172.2 400.78,173.1 400.95,172.8 401.12,172.6 401.29,173.1 401.46,170.9 401.63,172.8 401.80,172.1 401.97,172.8 402.14,171.6 402.31,172.0 402.48,172.9 402.65,170.8 402.82,171.5 402.99,172.0 403.16,173.0 403.33,171.5 403.50,172.9 403.67,171.4 403.84,171.6 404.01,172.2 404.18,172.4 404.35,173.0 404.52,173.0 404.69,171.4 404.86,172.7 405.03,172.4 405.20,171.7 405.37,172.7 405.54,172.9 405.71,171.8 405.88,172.9 406.05,170.9 406.22,171.0 406.39,172.6 406.56,171.4 406.73,172.1 406.90,171.8 407.07,170.9 407.24,172.4 407.41,172.4 407.58,170.9 407.75,171.3 407.92,172.8 408.09,173.2 408.26,173.2 408.43,172.3 408.60,172.0 408.77,172.2 408.94,171.5 409.11,172.2 409.28,171.5 409.45,171.2 409.62,171.7 409.79,170.9 409.96,171.9 410.13,172.5 410.30,172.4 410.47,173.3 410.64,173.1 410.81,172.5 410.98,173.3 411.15,172.1 411.32,173.1 411.49,171.8 411.66,172.4 411.83,173.7 412.00,172.7 412.17,172.5 412.34,173.2 412.51,172.0 412.68,173.4 412.85,171.3 413.02,171.9 413.19,171.7 413.36,171.9 413.53,173.7 413.70,171.3 413.87,172.0 414.04,172.6 414.21,172.8 414.38,172.9 414.55,171.8 414.72,171.2 414.89,172.8 415.06,170.9 415.23,170.8" stroke="#2196d8"/>
<polyline points="415.23,170.8 415.50,234.0" stroke="#2196d8" stroke-width="1.2"/>
<polyline points="415.50,234.0 415.51,233.8 415.53,233.6 415.54,233.4 415.56,233.5 415.57,233.1 415.59,233.0 415.60,233.0 415.62,232.8 415.63,232.8 415.65,232.4 415.66,232.3 415.68,232.1 415.69,232.1 415.71,231.9 415.72,231.7 415.74,231.7 415.75,231.4 415.77,231.4 415.78,231.0 415.80,231.0 415.81,231.0 415.83,230.8 415.84,230.6 415.86,230.5 415.87,230.2 415.89,230.1 415.90,230.0 415.92,229.8 415.93,229.8 415.95,229.5 415.96,229.3 415.98,229.3 415.99,229.0 416.02,229.1 416.06,228.6 416.10,228.5 416.14,228.2 416.17,228.2 416.21,228.3 416.25,227.9 416.29,227.6 416.33,227.8 416.37,227.8 416.41,227.2 416.44,227.3 416.48,226.9 416.52,226.7 416.56,226.8 416.60,226.6 416.64,226.9 416.68,226.1 416.72,226.4 416.75,226.3 416.79,225.9 416.87,225.9 416.96,225.4 417.05,225.3 417.14,224.8 417.23,226.1 417.32,224.6 417.41,224.6 417.50,225.4 417.59,224.9 417.68,224.9 417.80,224.4 417.92,224.2 418.05,225.7 418.17,224.3 418.30,224.8 418.42,225.8 418.55,224.9 418.67,226.4 418.80,224.8 418.92,225.7 419.05,225.8 419.17,225.8 419.30,226.5 419.42,225.0 419.55,226.1 419.67,226.7 419.80,225.2 419.93,226.4 420.05,226.2 420.18,226.2 420.30,226.6 420.43,226.9 420.55,227.1 420.68,227.6 420.81,227.2 420.93,228.0 421.06,227.4 421.18,226.6 421.31,226.4 421.44,226.3 421.56,226.8 421.69,226.6 421.81,227.9 421.94,228.0 422.06,227.9 422.19,227.5 422.32,227.7 422.44,227.4 422.57,228.9 422.69,227.0 422.82,227.8 422.95,228.4 423.07,227.6 423.20,229.3 423.34,228.4 423.49,228.1 423.64,227.3 423.79,227.9 423.94,228.7 424.09,228.0 424.23,227.4 424.38,228.8 424.53,228.1 424.68,229.5 424.83,229.1 424.98,229.2 425.12,229.7 425.27,229.5 425.42,228.3 425.57,228.9 425.72,228.2 425.87,228.0 426.01,228.1 426.16,227.9 426.31,228.2 426.46,228.2 426.61,229.4 426.75,228.3 426.90,227.8 427.05,228.8 427.20,228.2 427.35,229.5 427.50,228.3 427.64,229.2 427.79,228.3 427.94,229.1 428.09,230.1 428.24,228.7 428.39,229.3 428.53,229.1 428.68,228.1 428.83,228.0 428.98,230.2 429.13,228.9 429.28,229.8 429.42,229.1 429.57,230.2 429.72,228.6 429.87,229.4 430.02,229.6 430.16,230.2 430.31,228.3 430.46,229.2 430.61,229.5 430.76,229.8 430.91,228.7 431.05,229.7 431.20,230.1 431.35,230.3 431.50,229.0 431.65,229.5 431.80,229.2 431.94,229.5 432.09,229.4 432.24,230.9 432.39,228.6 432.54,231.0 432.69,228.6 432.83,228.8 432.98,229.1 433.13,229.4 433.28,230.9 433.43,230.8 433.58,231.1 433.73,229.7 433.88,228.8 434.02,230.4 434.17,231.1 434.32,229.1 434.47,230.9 434.62,228.8 434.77,230.7 434.92,230.1 435.07,231.2 435.21,231.2 435.36,229.0 435.51,230.2 435.66,229.6 435.81,230.1 435.96,229.2 436.11,229.9 436.26,230.1 436.40,229.1 436.55,230.3 436.70,231.4 436.85,229.3 437.00,231.6 437.15,230.4 437.30,229.7 437.45,231.7 437.59,230.4 437.74,230.4 437.89,230.2 438.04,231.5 438.19,229.6 438.34,229.8 438.49,230.1 438.63,229.5 438.78,231.5 438.93,230.6 439.08,231.0 439.23,231.7 439.38,230.7 439.53,230.2 439.68,230.9 439.82,230.8 439.97,230.3 440.12,230.1 440.27,230.5 440.42,231.5 440.57,230.0 440.72,232.2 440.87,230.2 441.01,230.4 441.16,230.0 441.31,230.7 441.42,230.9 441.45,231.3 441.49,231.6 441.53,231.3 441.57,231.8 441.61,231.7 441.65,231.9 441.69,231.8 441.72,232.5 441.76,232.3" stroke="#2196d8" stroke-width="1.6"/>
<polyline points="75.40,57.8 75.57,56.0 75.74,57.7 75.91,56.4 76.08,57.0 76.25,57.5 76.42,56.3 76.59,57.3 76.76,58.2 76.93,56.6 77.10,57.5 77.27,56.8 77.44,56.7 77.61,57.6 77.78,57.5 77.95,58.0 78.12,58.5 78.29,58.1 78.46,57.1 78.63,57.5 78.80,58.0 78.97,58.4 79.14,58.0 79.31,57.5 79.48,56.6 79.65,58.5 79.82,57.0 79.99,57.4 80.16,58.6 80.33,56.9 80.50,58.8 80.67,57.1 80.84,56.8 81.01,58.0 81.18,58.8 81.35,57.8 81.52,59.0 81.69,57.8 81.86,58.9 82.03,57.0 82.20,57.4 82.37,56.9 82.54,58.3 82.71,57.5 82.88,57.8 83.05,56.6 83.22,57.8 83.39,58.5 83.56,56.1 83.73,56.8 83.90,58.3 84.07,58.4 84.24,58.5 84.41,56.8 84.58,57.8 84.75,56.6 84.92,57.5 85.09,58.0 85.26,57.2 85.43,57.6 85.60,57.5 85.77,56.7 85.94,56.6 86.11,58.4 86.28,56.4 86.45,59.0 86.62,58.8 86.79,59.1 86.96,58.5 87.13,56.4 87.30,56.6 87.47,57.0 87.64,56.5 87.81,56.1 87.98,58.3 88.15,58.2 88.32,57.9 88.49,56.6 88.66,58.2 88.83,58.3 89.00,57.1 89.17,56.7 89.34,56.7 89.51,57.5 89.68,58.5 89.85,56.5 90.02,57.4 90.19,57.1 90.36,58.5 90.53,56.5 90.70,57.8 90.87,56.9 91.04,57.8 91.21,58.2 91.38,58.1 91.55,58.1 91.72,56.6 91.89,56.6 92.06,56.2 92.23,56.6 92.40,56.3 92.57,58.1 92.74,56.2 92.91,56.6 93.08,58.2 93.25,58.2 93.42,58.8 93.59,57.3 93.76,56.5 93.93,58.5 94.10,57.2 94.27,58.5 94.44,56.5 94.61,56.4 94.78,57.8 94.95,57.9 95.12,57.5 95.29,57.3 95.46,57.5 95.63,56.3 95.80,56.2 95.97,57.1 96.14,57.7 96.31,56.9 96.48,56.8 96.65,57.5 96.82,57.4 96.99,57.0 97.16,58.7 97.33,58.7 97.50,56.2 97.67,57.3 97.84,56.5 98.01,56.7 98.18,55.9 98.35,56.0 98.52,55.9 98.69,56.3 98.86,57.7 99.03,56.3 99.20,58.4 99.37,58.2 99.54,56.7 99.71,57.8 99.88,58.4 100.05,56.3 100.22,57.5 100.39,57.4 100.56,57.0 100.73,57.1 100.90,56.6 101.07,58.0 101.24,56.8 101.41,57.4 101.58,58.6 101.75,56.9 101.92,56.7 102.09,58.2 102.26,57.2 102.43,57.1 102.60,56.2 102.77,57.4 102.94,56.9 103.11,57.5 103.28,57.3 103.45,56.6 103.62,58.9 103.79,58.5 103.96,59.2 104.13,57.4 104.30,57.3 104.47,56.8 104.64,57.1 104.81,57.0 104.98,56.5 105.15,56.7 105.32,56.8 105.49,58.3 105.66,57.2 105.83,58.2 106.00,56.2 106.17,56.5 106.34,58.4 106.51,55.9 106.68,55.8 106.85,56.9 107.02,56.1 107.19,55.7 107.36,56.6 107.53,56.5 107.70,55.3 107.87,56.1 108.04,55.8 108.21,56.7 108.38,54.6 108.55,55.0 108.72,55.9 108.89,54.4 109.06,56.4 109.23,56.6 109.40,54.8 109.57,55.8 109.74,54.3 109.91,56.1 110.08,54.2 110.25,53.7 110.42,54.0 110.59,55.1 110.76,54.3 110.93,57.0 111.10,56.5 111.27,56.8 111.44,58.9 111.61,62.6 111.78,68.1 111.95,72.6 112.12,76.1 112.29,77.6 112.46,78.4 112.63,79.7 112.80,80.6 112.97,80.5 113.14,83.2 113.31,82.0 113.48,83.3 113.65,82.7 113.82,84.4 113.99,85.1 114.16,84.1 114.33,86.9 114.50,85.2 114.67,85.8 114.84,87.4 115.01,86.8 115.18,88.6 115.35,87.4 115.52,87.9 115.69,89.3 115.86,90.1 116.03,90.4 116.20,89.2 116.37,90.1 116.54,90.1 116.71,91.0 116.88,90.2 117.05,92.0 117.22,91.9 117.39,90.7 117.56,91.1 117.73,91.2 117.90,92.8 118.07,91.6 118.24,92.1 118.41,93.1 118.58,91.9 118.75,93.6 118.92,92.2 119.09,91.7 119.26,92.2 119.43,94.0 119.60,93.4 119.77,94.7 119.94,94.0 120.11,94.4 120.28,93.6 120.45,94.2 120.62,94.5 120.79,93.8 120.96,94.2 121.13,95.2 121.30,95.6 121.47,94.3 121.64,93.8 121.81,96.1 121.98,95.3 122.15,96.8 122.32,96.3 122.49,95.4 122.66,96.6 122.83,95.8 123.00,96.2 123.17,96.6 123.34,95.8 123.51,96.8 123.68,95.4 123.85,95.6 124.02,96.5 124.19,96.2 124.36,97.3 124.53,97.1 124.70,97.9 124.87,98.3 125.04,97.8 125.21,98.8 125.38,98.5 125.55,98.7 125.72,96.6 125.89,96.6 126.06,98.3 126.23,97.5 126.40,99.0 126.57,97.8 126.74,98.9 126.91,97.7 127.08,98.9 127.25,99.8 127.42,99.9 127.59,98.7 127.76,99.1 127.93,99.3 128.10,98.9 128.27,99.3 128.44,100.7 128.61,100.6 128.78,99.3 128.95,100.4 129.12,101.3 129.29,100.0 129.46,101.5 129.63,101.5 129.80,101.9 129.97,100.0 130.14,102.3 130.31,102.5 130.48,100.7 130.65,101.9 130.82,100.6 130.99,102.2 131.16,102.6 131.33,102.9 131.50,103.4 131.67,102.1 131.84,101.7 132.01,103.7 132.18,101.8 132.35,102.5 132.52,102.6 132.69,104.2 132.86,103.4 133.03,104.6 133.20,104.2 133.37,104.8 133.54,104.7 133.71,105.0 133.88,103.6 134.05,103.9 134.22,104.7 134.39,104.7 134.56,105.3 134.73,105.4 134.90,104.2 135.07,103.9 135.24,105.7 135.41,105.9 135.58,105.1 135.75,104.9 135.92,105.1 136.09,105.9 136.26,106.2 136.43,106.1 136.60,105.8 136.77,106.1 136.94,106.6 137.11,106.0 137.28,106.4 137.45,107.1 137.62,108.3 137.79,108.5 137.96,107.4 138.13,106.8 138.30,107.2 138.47,108.4 138.64,107.8 138.81,108.4 138.98,109.0 139.15,109.0 139.32,109.8 139.49,107.9 139.66,108.6 139.83,108.0 140.00,109.3 140.17,109.7 140.34,108.8 140.51,108.4 140.68,109.6 140.85,108.9 141.02,109.1 141.19,109.7 141.36,111.3 141.53,109.9 141.70,110.9 141.87,110.1 142.04,110.3 142.21,109.8 142.38,110.0 142.55,111.7 142.72,111.0 142.89,110.8 143.06,112.8 143.23,112.7 143.40,111.3 143.57,111.9 143.74,112.3 143.91,111.4 144.08,112.3 144.25,112.1 144.42,113.6 144.59,111.9 144.76,114.4 144.93,112.6 145.10,112.9 145.27,112.4 145.44,114.6 145.61,114.6 145.78,112.8 145.95,114.2 146.12,114.0 146.29,114.8 146.46,114.3 146.63,116.0 146.80,114.2 146.97,115.9 147.14,114.5 147.31,115.6 147.48,115.1 147.65,115.4 147.82,115.5 147.99,115.8 148.16,114.5 148.33,114.5 148.50,117.0 148.67,115.2 148.84,115.5 149.01,115.2 149.18,116.3 149.35,117.3 149.52,115.9 149.69,115.9 149.86,116.1 150.03,115.5 150.20,115.9 150.37,116.0 150.54,116.9 150.71,118.8 150.88,116.8 151.05,118.1 151.22,117.4 151.39,117.2 151.56,119.4 151.73,117.8 151.90,117.9 152.07,119.8 152.24,118.3 152.41,118.2 152.58,120.2 152.75,118.2 152.92,120.0 153.09,118.7 153.26,119.4 153.43,118.9 153.60,119.1 153.77,120.8 153.94,120.9 154.11,119.2 154.28,120.7 154.45,119.3 154.62,119.7 154.79,119.2 154.96,120.8 155.13,121.0 155.30,121.2 155.47,121.3 155.64,120.5 155.81,120.0 155.98,119.7 156.15,121.0 156.32,122.4 156.49,121.2 156.66,121.7 156.83,122.6 157.00,122.6 157.17,122.4 157.34,122.1 157.51,121.3 157.68,122.7 157.85,122.0 158.02,122.9 158.19,121.8 158.36,123.8 158.53,122.0 158.70,123.8 158.87,124.3 159.04,122.5 159.21,124.5 159.38,124.1 159.55,124.1 159.72,123.2 159.89,123.5 160.06,123.3 160.23,123.9 160.40,124.5 160.57,124.7 160.74,124.7 160.91,123.8 161.08,123.8 161.25,124.9 161.42,125.5 161.59,123.6 161.76,124.2 161.93,123.9 162.10,125.9 162.27,123.6 162.44,126.0 162.61,125.8 162.78,124.8 162.95,125.8 163.12,125.0 163.29,125.7 163.46,125.2 163.63,126.5 163.80,125.3 163.97,126.3 164.14,125.8 164.31,125.3 164.48,126.9 164.65,125.0 164.82,126.9 164.99,127.2 165.16,126.9 165.33,126.4 165.50,126.5 165.67,127.4 165.84,126.2 166.01,127.3 166.18,127.3 166.35,127.6 166.52,126.6 166.69,127.2 166.86,125.8 167.03,125.7 167.20,125.7 167.37,127.4 167.54,126.5 167.71,128.0 167.88,126.0 168.05,126.4 168.22,128.2 168.39,127.3 168.56,126.8 168.73,128.4 168.90,127.1 169.07,129.1 169.24,127.5 169.41,129.1 169.58,128.2 169.75,129.5 169.92,127.8 170.09,129.5 170.26,127.9 170.43,128.4 170.60,128.9 170.77,128.8 170.94,129.2 171.11,129.3 171.28,128.2 171.45,127.6 171.62,129.6 171.79,129.3 171.96,129.3 172.13,129.2 172.30,130.4 172.47,128.8 172.64,130.4 172.81,128.5 172.98,130.0 173.15,130.7 173.32,128.8 173.49,130.6 173.66,129.5 173.83,129.1 174.00,130.2 174.17,131.0 174.34,130.0 174.51,131.8 174.68,129.4 174.85,130.2 175.02,130.5 175.19,130.7 175.36,130.6 175.53,130.0 175.70,130.6 175.87,130.8 176.04,131.9 176.21,131.1 176.38,132.1 176.55,131.4 176.72,131.3 176.89,131.1 177.06,131.5 177.23,133.5 177.40,132.6 177.57,132.4 177.74,132.3 177.91,134.1 178.08,133.6 178.25,133.6 178.42,134.0 178.59,132.6 178.76,134.1 178.93,132.5 179.10,134.3 179.27,133.5 179.44,134.5 179.61,133.4 179.78,133.7 179.95,134.4 180.12,135.1 180.29,133.6 180.46,133.2 180.63,133.3 180.80,134.8 180.97,135.6 181.14,133.4 181.31,134.3 181.48,134.0 181.65,136.1 181.82,134.0 181.99,133.9 182.16,135.8 182.33,136.5 182.50,136.0 182.67,134.3 182.84,135.1 183.01,135.4 183.18,136.4 183.35,136.1 183.52,134.4 183.69,135.5 183.86,136.5 184.03,136.0 184.20,136.5 184.37,137.3 184.54,137.4 184.71,137.0 184.88,136.3 185.05,135.6 185.22,135.3 185.39,135.3 185.56,136.6 185.73,137.0 185.90,137.2 186.07,137.4 186.24,135.9 186.41,136.1 186.58,135.9 186.75,136.9 186.92,138.2 187.09,137.9 187.26,137.3 187.43,136.8 187.60,138.8 187.77,139.2 187.94,139.0 188.11,138.0 188.28,138.3 188.45,138.9 188.62,139.8 188.79,138.1 188.96,138.5 189.13,137.5 189.30,137.4 189.47,138.0 189.64,139.5 189.81,139.3 189.98,138.8 190.15,138.8 190.32,138.5 190.49,139.9 190.66,139.3 190.83,138.3 191.00,139.8 191.17,140.8 191.34,138.4 191.51,140.8 191.68,138.4 191.85,139.0 192.02,140.8 192.19,140.8 192.36,138.9 192.53,140.4 192.70,140.2 192.87,139.7 193.04,140.8 193.21,140.5 193.38,139.5 193.55,140.2 193.72,141.0 193.89,140.9 194.06,140.8 194.23,141.5 194.40,140.1 194.57,139.9 194.74,139.9 194.91,141.5 195.08,141.0 195.25,142.0 195.42,142.3 195.59,140.2 195.76,141.0 195.93,141.3 196.10,142.0 196.27,143.2 196.44,142.6 196.61,142.0 196.78,142.9 196.95,142.1 197.12,142.6 197.29,141.4 197.46,142.5 197.63,142.2 197.80,142.5 197.97,142.3 198.14,142.3 198.31,142.8 198.48,141.2 198.65,142.9 198.82,142.7 198.99,142.9 199.16,142.3 199.33,141.5 199.50,143.7 199.67,143.4 199.84,143.8 200.01,142.5 200.18,143.6 200.35,143.6 200.52,142.9 200.69,143.9 200.86,143.8 201.03,142.0 201.20,142.3 201.37,143.1 201.54,143.6 201.71,144.0 201.88,143.9 202.05,144.7 202.22,144.6 202.39,142.8 202.56,143.4 202.73,144.8 202.90,144.5 203.07,142.6 203.24,144.2 203.41,143.0 203.58,144.1 203.75,145.5 203.92,143.3 204.09,145.4 204.26,144.7 204.43,146.1 204.60,145.9 204.77,143.9 204.94,145.5 205.11,146.2 205.28,144.7 205.45,145.9 205.62,144.8 205.79,144.8 205.96,145.2 206.13,145.2 206.30,147.1 206.47,145.3 206.64,145.8 206.81,146.0 206.98,146.6 207.15,147.4 207.32,146.5 207.49,147.2 207.66,145.4 207.83,146.8 208.00,145.6 208.17,147.5 208.34,146.8 208.51,145.6 208.68,147.5 208.85,146.7 209.02,146.7 209.19,145.8 209.36,148.0 209.53,147.1 209.70,148.0 209.87,146.0 210.04,147.6 210.21,146.8 210.38,147.3 210.55,147.5 210.72,148.1 210.89,148.4 211.06,146.4 211.23,148.2 211.40,146.3 211.57,146.0 211.74,146.7 211.91,146.6 212.08,147.9 212.25,147.4 212.42,147.0 212.59,148.2 212.76,148.8 212.93,148.2 213.10,148.5 213.27,149.2 213.44,147.9 213.61,149.8 213.78,147.7 213.95,147.4 214.12,149.4 214.29,147.7 214.46,148.2 214.63,148.7 214.80,147.7 214.97,148.5 215.14,148.4 215.31,147.7 215.48,149.1 215.65,148.7 215.82,148.0 215.99,149.6 216.16,148.6 216.33,147.6 216.50,149.9 216.67,148.7 216.84,147.9 217.01,148.5 217.18,148.5 217.35,148.0 217.52,148.9 217.69,148.5 217.86,148.6 218.03,149.8 218.20,148.5 218.37,148.2 218.54,148.7 218.71,149.1 218.88,148.8 219.05,150.0 219.22,150.8 219.39,150.8 219.56,149.9 219.73,150.7 219.90,150.8 220.07,150.4 220.24,150.8 220.41,149.8 220.58,150.8 220.75,150.4 220.92,151.0 221.09,151.1 221.26,149.5 221.43,151.5 221.60,149.5 221.77,150.5 221.94,151.0 222.11,151.6 222.28,149.6 222.45,151.2 222.62,150.3 222.79,149.5 222.96,150.2 223.13,151.1 223.30,149.7 223.47,151.7 223.64,149.8 223.81,150.4 223.98,150.8 224.15,150.2 224.32,152.5 224.49,152.6 224.66,152.5 224.83,150.7 225.00,152.3 225.17,151.0 225.34,150.9 225.51,152.0 225.68,150.4 225.85,150.2 226.02,152.6 226.19,151.1 226.36,152.3 226.53,151.4 226.70,150.7 226.87,151.8 227.04,151.1 227.21,151.0 227.38,150.9 227.55,151.9 227.72,151.6 227.89,151.8 228.06,153.5 228.23,153.2 228.40,152.9 228.57,151.7 228.74,153.1 228.91,153.0 229.08,152.7 229.25,152.1 229.42,152.1 229.59,152.7 229.76,152.4 229.93,153.9 230.10,152.8 230.27,153.2 230.44,153.7 230.61,152.8 230.78,151.6 230.95,151.9 231.12,153.5 231.29,151.3 231.46,151.8 231.63,152.9 231.80,153.7 231.97,153.7 232.14,153.6 232.31,153.6 232.48,152.7 232.65,152.0 232.82,153.5 232.99,152.0 233.16,154.0 233.33,152.3 233.50,152.1 233.67,154.8 233.84,152.8 234.01,154.1 234.18,152.9 234.35,155.4 234.52,153.0 234.69,154.9 234.86,155.3 235.03,153.8 235.20,153.0 235.37,153.0 235.54,152.9 235.71,154.7 235.88,154.0 236.05,155.0 236.22,154.3 236.39,154.2 236.56,153.2 236.73,153.3 236.90,155.3 237.07,155.3 237.24,154.0 237.41,155.0 237.58,154.8 237.75,153.7 237.92,153.5 238.09,155.0 238.26,155.7 238.43,155.8 238.60,154.3 238.77,153.6 238.94,154.3 239.11,153.6 239.28,156.0 239.45,154.3 239.62,155.7 239.79,154.2 239.96,156.1 240.13,154.9 240.30,155.8 240.47,155.3 240.64,155.8 240.81,154.1 240.98,154.2 241.15,155.0 241.32,156.5 241.49,156.8 241.66,156.4 241.83,156.2 242.00,154.8 242.17,157.1 242.34,156.3 242.51,156.0 242.68,156.5 242.85,154.8 243.02,155.8 243.19,156.0 243.36,156.3 243.53,154.7 243.70,156.5 243.87,157.1 244.04,156.5 244.21,155.4 244.38,157.5 244.55,155.4 244.72,155.8 244.89,157.5 245.06,156.9 245.23,156.3 245.40,157.5 245.57,157.2 245.74,155.8 245.91,156.1 246.08,157.5 246.25,157.5 246.42,155.6 246.59,156.9 246.76,157.4 246.93,156.5 247.10,155.9 247.27,156.9 247.44,158.3 247.61,157.8 247.78,156.3 247.95,157.9 248.12,157.3 248.29,156.3 248.46,156.2 248.63,155.9 248.80,156.6 248.97,156.5 249.14,156.4 249.31,158.0 249.48,157.8 249.65,157.1 249.82,158.4 249.99,157.7 250.16,158.5 250.33,158.3 250.50,158.0 250.67,158.4 250.84,158.8 251.01,159.0 251.18,159.4 251.35,158.2 251.52,158.3 251.69,158.0 251.86,159.8 252.03,159.7 252.20,158.4 252.37,158.3 252.54,157.7 252.71,160.0 252.88,159.3 253.05,160.1 253.22,159.3 253.39,159.1 253.56,159.7 253.73,160.0 253.90,159.9 254.07,158.6 254.24,159.2 254.41,160.4 254.58,159.4 254.75,160.3 254.92,159.7 255.09,160.5 255.26,158.5 255.43,158.2 255.60,158.2 255.77,159.0 255.94,158.8 256.11,160.3 256.28,160.5 256.45,158.4 256.62,160.3 256.79,159.6 256.96,160.7 257.13,159.6 257.30,160.8 257.47,158.8 257.64,160.1 257.81,159.8 257.98,159.6 258.15,159.7 258.32,160.1 258.49,160.3 258.66,160.5 258.83,161.0 259.00,161.3 259.17,161.6 259.34,160.8 259.51,159.7 259.68,160.5 259.85,160.1 260.02,159.6 260.19,159.9 260.36,159.6 260.53,160.4 260.70,159.2 260.87,160.4 261.04,160.1 261.21,159.0 261.38,159.7 261.55,161.6 261.72,160.7 261.89,159.5 262.06,161.1 262.23,161.7 262.40,160.5 262.57,161.5 262.74,161.1 262.91,162.1 263.08,162.8 263.25,161.3 263.42,161.0 263.59,160.9 263.76,162.0 263.93,160.5 264.10,161.7 264.27,162.4 264.44,162.3 264.61,162.1 264.78,160.4 264.95,161.6 265.12,161.2 265.29,162.0 265.46,161.1 265.63,161.1 265.80,163.2 265.97,163.1 266.14,161.1 266.31,163.1 266.48,161.2 266.65,161.9 266.82,163.7 266.99,163.6 267.16,162.4 267.33,163.0 267.50,162.1 267.67,163.3 267.84,161.9 268.01,161.6 268.18,161.5 268.35,162.8 268.52,162.6 268.69,163.4 268.86,161.4 269.03,163.1 269.20,163.5 269.37,163.1 269.54,161.6 269.71,161.8 269.88,161.7 270.05,162.4 270.22,163.6 270.39,162.0 270.56,162.9 270.73,161.9 270.90,163.5 271.07,162.1 271.24,164.0 271.41,163.6 271.58,162.5 271.75,164.0 271.92,163.1 272.09,163.6 272.26,163.7 272.43,162.9 272.60,163.2 272.77,164.1 272.94,164.2 273.11,164.1 273.28,163.3 273.45,164.1 273.62,162.2 273.79,164.5 273.96,162.1 274.13,164.5 274.30,164.3 274.47,163.3 274.64,164.4 274.81,164.8 274.98,162.7 275.15,163.9 275.32,162.2 275.49,164.0 275.66,162.5 275.83,164.2 276.00,162.7 276.17,163.8 276.34,165.0 276.51,163.5 276.68,165.2 276.85,163.9 277.02,163.1 277.19,165.0 277.36,162.9 277.53,164.1 277.70,165.0 277.87,165.1 278.04,164.1 278.21,163.3 278.38,164.0 278.55,163.5 278.72,163.6 278.89,163.6 279.06,163.3 279.23,162.9 279.40,164.8 279.57,163.0 279.74,164.5 279.91,164.0 280.08,164.7 280.25,164.6 280.42,164.5 280.59,165.3 280.76,164.8 280.93,165.7 281.10,164.8 281.27,165.5 281.44,165.4 281.61,164.9 281.78,163.9 281.95,164.2 282.12,163.2 282.29,164.9 282.46,164.7 282.63,165.2 282.80,163.3 282.97,163.5 283.14,165.0 283.31,165.3 283.48,163.7 283.65,163.7 283.82,164.5 283.99,164.6 284.16,163.9 284.33,164.1 284.50,164.5 284.67,164.1 284.84,164.5 285.01,164.2 285.18,165.1 285.35,166.1 285.52,165.8 285.69,165.7 285.86,165.3 286.03,164.6 286.20,164.3 286.37,164.8 286.54,166.8 286.71,166.5 286.88,165.8 287.05,165.9 287.22,166.2 287.39,166.3 287.56,164.7 287.73,166.2 287.90,165.8 288.07,164.9 288.24,165.0 288.41,164.8 288.58,165.8 288.75,167.0 288.92,166.6 289.09,165.1 289.26,165.0 289.43,165.4 289.60,165.1 289.77,165.1 289.94,166.6 290.11,165.5 290.28,166.1 290.45,165.4 290.62,167.2 290.79,166.1 290.96,165.0 291.13,166.6 291.30,165.4 291.47,165.9 291.64,165.4 291.81,166.0 291.98,165.5 292.15,165.5 292.32,165.1 292.49,167.2 292.66,165.3 292.83,165.6 293.00,166.0 293.17,165.4 293.34,165.9 293.51,166.5 293.68,167.1 293.85,167.1 294.02,166.7 294.19,167.6 294.36,167.8 294.53,166.5 294.70,166.5 294.87,167.5 295.04,166.9 295.21,167.9 295.38,165.7 295.55,166.9 295.72,166.3 295.89,165.9 296.06,167.5 296.23,165.8 296.40,167.4 296.57,167.7 296.74,168.1 296.91,166.0 297.08,166.3 297.25,166.2 297.42,166.9 297.59,168.5 297.76,167.8 297.93,166.5 298.10,166.4 298.27,168.0 298.44,167.7 298.61,166.1 298.78,167.6 298.95,166.6 299.12,166.9 299.29,166.3 299.46,168.6 299.63,167.2 299.80,167.7 299.97,166.7 300.14,167.2 300.31,167.9 300.48,168.2 300.65,168.6 300.82,166.8 300.99,166.7 301.16,167.0 301.33,166.7 301.50,168.1 301.67,167.0 301.84,167.2 302.01,167.6 302.18,167.9 302.35,167.5 302.52,166.6 302.69,168.6 302.86,167.0 303.03,168.9 303.20,167.4 303.37,167.5 303.54,168.3 303.71,169.4 303.88,168.0 304.05,168.3 304.22,168.0 304.39,167.1 304.56,167.5 304.73,169.0 304.90,168.9 305.07,167.0 305.24,168.7 305.41,166.3 305.58,168.1 305.75,166.3 305.92,167.4 306.09,167.4 306.26,167.6 306.43,169.0 306.60,167.5 306.77,166.7 306.94,167.0 307.11,168.7 307.28,167.1 307.45,166.9 307.62,167.2 307.79,169.3 307.96,167.9 308.13,167.2 308.30,168.5 308.47,167.8 308.64,168.3 308.81,169.5 308.98,168.8 309.15,168.4 309.32,169.6 309.49,168.3 309.66,168.1 309.83,169.1 310.00,169.4 310.17,168.8 310.34,167.9 310.51,168.0 310.68,167.0 310.85,167.6 311.02,169.0 311.19,168.3 311.36,169.3 311.53,168.8 311.70,168.6 311.87,169.3 312.04,168.6 312.21,169.1 312.38,168.8 312.55,168.5 312.72,169.7 312.89,167.9 313.06,170.3 313.23,170.3 313.40,170.1 313.57,169.2 313.74,169.2 313.91,169.1 314.08,169.2 314.25,168.6 314.42,170.0 314.59,170.1 314.76,169.1 314.93,169.9 315.10,168.4 315.27,169.8 315.44,170.1 315.61,169.3 315.78,170.2 315.95,169.7 316.12,169.7 316.29,169.2 316.46,168.2 316.63,168.3 316.80,170.2 316.97,168.5 317.14,169.8 317.31,168.5 317.48,170.0 317.65,170.5 317.82,169.7 317.99,168.2 318.16,170.1 318.33,169.5 318.50,170.7 318.67,169.1 318.84,169.6 319.01,171.4 319.18,171.3 319.35,171.5 319.52,170.5 319.69,170.8 319.86,171.4 320.03,170.5 320.20,169.0 320.37,169.1 320.54,168.6 320.71,169.0 320.88,168.8 321.05,169.8 321.22,170.5 321.39,171.3 321.56,170.1 321.73,169.5 321.90,171.5 322.07,171.6 322.24,171.7 322.41,169.2 322.58,170.7 322.75,170.8 322.92,170.5 323.09,169.6 323.26,171.4 323.43,170.4 323.60,169.1 323.77,169.9 323.94,171.0 324.11,169.7 324.28,171.3 324.45,169.9 324.62,170.6 324.79,170.3 324.96,169.9 325.13,171.9 325.30,170.4 325.47,171.5 325.64,171.8 325.81,170.2 325.98,169.4 326.15,170.7 326.32,170.0 326.49,171.6 326.66,169.7 326.83,171.1 327.00,169.2 327.17,169.8 327.34,169.6 327.51,171.3 327.68,170.7 327.85,170.9 328.02,169.5 328.19,170.1 328.36,171.7 328.53,171.1 328.70,171.5 328.87,170.9 329.04,170.2 329.21,172.0 329.38,170.4 329.55,170.1 329.72,171.3 329.89,169.9 330.06,171.7 330.23,171.7 330.40,170.9 330.57,171.3 330.74,171.3 330.91,170.2 331.08,170.2 331.25,170.9 331.42,170.0 331.59,170.6 331.76,171.1 331.93,171.9 332.10,171.7 332.27,170.9 332.44,172.4 332.61,172.5 332.78,172.1 332.95,172.1 333.12,170.9 333.29,172.4 333.46,171.8 333.63,170.8 333.80,172.2 333.97,172.1 334.14,171.9 334.31,171.7 334.48,172.4 334.65,172.3 334.82,171.9 334.99,170.5 335.16,170.8 335.33,172.7 335.50,171.2 335.67,171.7 335.84,170.3 336.01,171.5 336.18,171.6 336.35,172.0 336.52,172.6 336.69,171.3 336.86,171.0 337.03,170.7 337.20,171.1 337.37,171.4 337.54,172.7 337.71,171.5 337.88,171.9 338.05,172.1 338.22,170.3 338.39,170.9 338.56,171.9 338.73,170.7 338.90,171.0 339.07,172.6 339.24,172.4 339.41,171.0 339.58,171.0 339.75,172.8 339.92,171.8 340.09,171.4 340.26,172.4 340.43,172.2 340.60,173.1 340.77,170.8 340.94,172.5 341.11,171.8 341.28,171.3 341.45,172.1 341.62,170.9 341.79,171.2 341.96,171.2 342.13,172.7 342.30,172.8 342.47,171.5 342.64,171.7 342.81,172.9 342.98,171.9 343.15,171.8 343.32,173.3 343.49,172.3 343.66,172.3 343.83,172.5 344.00,171.1 344.17,172.0 344.34,173.1 344.51,172.7 344.68,173.3 344.85,171.8 345.02,172.2 345.19,171.5 345.36,171.4 345.53,171.1 345.70,171.4 345.87,171.2 346.04,171.9 346.21,171.9 346.38,172.8 346.55,172.8 346.72,172.2 346.89,172.5 347.06,172.1 347.23,171.7 347.40,172.2 347.57,172.5 347.74,173.4 347.91,173.1 348.08,171.3 348.25,172.9 348.42,171.6 348.59,173.0 348.76,173.7 348.93,173.4 349.10,171.9 349.27,172.7 349.44,172.1 349.61,173.3 349.78,173.4 349.95,173.4 350.12,172.3 350.29,172.8 350.46,171.7 350.63,173.5 350.80,173.4 350.97,171.0 351.14,172.4 351.31,172.8 351.48,171.6 351.65,171.1 351.82,171.1 351.99,173.0 352.16,171.3 352.33,172.3 352.50,173.5 352.67,171.5 352.84,173.3 353.01,172.5 353.18,172.4 353.35,172.7 353.52,172.4 353.69,173.7 353.86,173.2 354.03,172.5 354.20,171.9 354.37,173.0 354.54,174.4 354.71,174.2 354.88,172.1 355.05,172.9 355.22,173.2 355.39,173.0 355.56,172.3 355.73,172.4 355.90,173.4 356.07,173.8 356.24,173.8 356.41,173.7 356.58,173.7 356.75,171.9 356.92,172.4 357.09,172.7 357.26,172.5 357.43,172.9 357.60,173.0 357.77,172.9 357.94,172.1 358.11,174.4 358.28,174.7 358.45,173.9 358.62,173.0 358.79,173.5 358.96,174.6 359.13,173.8 359.30,174.0 359.47,174.0 359.64,174.8 359.81,174.0 359.98,172.6 360.15,173.7 360.32,174.9 360.49,173.0 360.66,172.9 360.83,173.0 361.00,173.1 361.17,173.4 361.34,174.9 361.51,174.4 361.68,174.6 361.85,174.0 362.02,173.3 362.19,174.3 362.36,172.7 362.53,173.2 362.70,173.4 362.87,174.2 363.04,174.4 363.21,174.0 363.38,174.1 363.55,173.2 363.72,174.1 363.89,174.7 364.06,173.7 364.23,174.5 364.40,173.9 364.57,173.8 364.74,174.1 364.91,172.8 365.08,173.1 365.25,173.0 365.42,174.1 365.59,174.6 365.76,174.8 365.93,173.6 366.10,173.9 366.27,173.4 366.44,174.5 366.61,173.8 366.78,173.2 366.95,173.0 367.12,174.8 367.29,173.5 367.46,174.8 367.63,173.1 367.80,172.9 367.97,174.2 368.14,174.8 368.31,172.9 368.48,174.8 368.65,174.1 368.82,174.9 368.99,175.0 369.16,173.6 369.33,174.9 369.50,173.0 369.67,173.7 369.84,173.7 370.01,173.2 370.18,173.9 370.35,174.6 370.52,172.9 370.69,173.9 370.86,174.1 371.03,173.3 371.20,174.5 371.37,173.6 371.54,174.4 371.71,174.4 371.88,174.9 372.05,175.3 372.22,175.3 372.39,174.2 372.56,173.6 372.73,173.6 372.90,175.1 373.07,175.1 373.24,175.3 373.41,175.4 373.58,174.8 373.75,175.6 373.92,174.9 374.09,174.7 374.26,175.1 374.43,174.5 374.60,174.7 374.77,175.0 374.94,173.5 375.11,174.4 375.28,173.2 375.45,173.7 375.62,174.8 375.79,175.2 375.96,175.2 376.13,174.8 376.30,175.2 376.47,175.3 376.64,174.6 376.81,173.7 376.98,173.2 377.15,175.1 377.32,175.2 377.49,175.1 377.66,174.8 377.83,175.0 378.00,175.2 378.17,174.8 378.34,175.1 378.51,174.0 378.68,174.8 378.85,175.0 379.02,174.8 379.19,174.0 379.36,173.6 379.53,175.0 379.70,173.7 379.87,175.6 380.04,174.1 380.21,175.8 380.38,174.8 380.55,176.2 380.72,174.4 380.89,174.1 381.06,175.2 381.23,175.3 381.40,174.0 381.57,174.2 381.74,174.6 381.91,173.6 382.08,173.8 382.25,174.3 382.42,173.6 382.59,173.3 382.76,175.3 382.93,173.4 383.10,175.8 383.27,175.5 383.44,174.6 383.61,175.7 383.78,173.7 383.95,175.1 384.12,174.6 384.29,174.4 384.46,176.0 384.63,173.7 384.80,175.7 384.97,173.6 385.14,175.1 385.31,174.0" stroke="#f57d28"/>
<polyline points="385.31,174.0 385.60,235.5" stroke="#f57d28" stroke-width="1.2"/>
<polyline points="385.60,235.5 385.63,235.6 385.66,235.0 385.69,234.8 385.72,235.0 385.75,234.8 385.78,234.7 385.81,234.5 385.84,234.6 385.87,234.3 385.90,233.9 385.93,234.0 385.96,233.7 386.00,233.9 386.03,233.4 386.06,233.0 386.09,233.4 386.12,232.9 386.15,233.1 386.18,232.8 386.24,233.3 386.39,233.3 386.53,233.9 386.68,233.7 386.83,233.1 386.98,232.2 387.13,232.7 387.27,232.1 387.42,232.3 387.57,232.7 387.72,232.6 387.87,232.3 388.01,232.3 388.16,232.4 388.30,232.1 388.44,233.3 388.59,231.9 388.73,232.4 388.88,232.2 389.02,233.8 389.16,232.6 389.31,232.1 389.45,234.3 389.59,233.2 389.74,234.3 389.88,233.0 390.02,233.1 390.16,233.7 390.30,232.5 390.43,235.0 390.57,232.7 390.71,234.9 390.85,234.3 390.98,234.7 391.12,233.2 391.26,235.1 391.39,234.2 391.53,233.9 391.67,233.4 391.80,233.6 391.85,234.8 391.90,235.1 391.95,234.6 392.00,235.1 392.05,235.2 392.10,235.1 392.15,235.3 392.20,235.5 392.25,235.4 392.30,236.0 392.35,235.8 392.40,236.0 392.41,236.1 392.41,236.4 392.42,236.4 392.42,236.6 392.43,236.8 392.44,236.9 392.44,237.1 392.45,237.1 392.45,237.3 392.46,237.5 392.47,237.7 392.47,237.8 392.48,238.0 392.48,238.1 392.49,238.2 392.50,238.4" stroke="#f57d28" stroke-width="1.6"/>
<polyline points="75.40,56.8 75.57,57.6 75.74,57.3 75.91,56.8 76.08,56.0 76.25,56.8 76.42,57.1 76.59,56.8 76.76,56.9 76.93,57.7 77.10,56.8 77.27,58.2 77.44,56.9 77.61,57.0 77.78,57.0 77.95,58.2 78.12,57.5 78.29,58.4 78.46,55.9 78.63,58.3 78.80,56.2 78.97,58.0 79.14,55.6 79.31,57.7 79.48,57.0 79.65,57.1 79.82,56.4 79.99,56.3 80.16,55.7 80.33,55.7 80.50,57.0 80.67,56.4 80.84,55.7 81.01,56.1 81.18,56.3 81.35,56.4 81.52,57.2 81.69,58.5 81.86,57.6 82.03,58.0 82.20,56.3 82.37,57.7 82.54,58.0 82.71,58.3 82.88,57.5 83.05,57.2 83.22,58.2 83.39,56.1 83.56,57.9 83.73,57.8 83.90,57.8 84.07,56.7 84.24,55.8 84.41,55.9 84.58,57.1 84.75,56.2 84.92,57.9 85.09,55.8 85.26,57.8 85.43,57.1 85.60,56.8 85.77,56.8 85.94,57.2 86.11,57.3 86.28,57.0 86.45,57.0 86.62,58.9 86.79,57.5 86.96,57.9 87.13,58.1 87.30,57.1 87.47,58.6 87.64,56.9 87.81,56.5 87.98,56.0 88.15,56.5 88.32,55.9 88.49,57.3 88.66,57.1 88.83,55.7 89.00,58.2 89.17,57.8 89.34,57.4 89.51,58.6 89.68,57.6 89.85,56.7 90.02,58.3 90.19,58.7 90.36,56.3 90.53,57.4 90.70,57.3 90.87,60.2 91.04,59.5 91.21,63.0 91.38,63.6 91.55,67.0 91.72,69.4 91.89,71.7 92.06,71.6 92.23,74.3 92.40,74.9 92.57,76.3 92.74,77.5 92.91,78.4 93.08,81.1 93.25,80.7 93.42,80.5 93.59,81.6 93.76,81.0 93.93,81.9 94.10,83.4 94.27,84.0 94.44,84.1 94.61,85.3 94.78,85.5 94.95,85.3 95.12,84.4 95.29,85.2 95.46,83.9 95.63,85.5 95.80,83.8 95.97,85.7 96.14,83.2 96.31,85.3 96.48,84.6 96.65,85.5 96.82,84.8 96.99,85.8 97.16,85.6 97.33,85.6 97.50,86.6 97.67,84.5 97.84,86.7 98.01,85.6 98.18,86.0 98.35,85.8 98.52,85.0 98.69,85.3 98.86,86.5 99.03,85.3 99.20,86.5 99.37,84.3 99.54,85.9 99.71,86.3 99.88,85.6 100.05,84.8 100.22,86.8 100.39,86.7 100.56,85.9 100.73,85.2 100.90,87.2 101.07,87.1 101.24,87.3 101.41,87.2 101.58,85.8 101.75,86.8 101.92,86.4 102.09,86.3 102.26,86.5 102.43,87.3 102.60,88.4 102.77,87.2 102.94,87.0 103.11,87.8 103.28,87.9 103.45,87.4 103.62,88.1 103.79,88.2 103.96,88.5 104.13,87.1 104.30,88.5 104.47,88.0 104.64,89.3 104.81,88.7 104.98,89.2 105.15,89.2 105.32,87.7 105.49,87.3 105.66,89.1 105.83,87.4 106.00,89.8 106.17,89.2 106.34,88.6 106.51,89.3 106.68,88.0 106.85,89.3 107.02,90.2 107.19,87.8 107.36,90.3 107.53,88.8 107.70,89.1 107.87,90.6 108.04,90.3 108.21,89.3 108.38,90.9 108.55,88.5 108.72,90.2 108.89,89.9 109.06,90.9 109.23,88.7 109.40,89.6 109.57,90.2 109.74,89.3 109.91,91.0 110.08,91.8 110.25,92.1 110.42,90.2 110.59,91.2 110.76,92.5 110.93,90.1 111.10,91.8 111.27,90.7 111.44,92.4 111.61,91.7 111.78,92.5 111.95,90.3 112.12,91.8 112.29,91.4 112.46,90.6 112.63,91.4 112.80,92.3 112.97,92.0 113.14,92.2 113.31,91.5 113.48,92.4 113.65,92.4 113.82,93.8 113.99,93.9 114.16,92.9 114.33,93.3 114.50,93.0 114.67,94.0 114.84,93.1 115.01,95.4 115.18,94.0 115.35,92.9 115.52,93.6 115.69,95.2 115.86,93.5 116.03,93.7 116.20,95.3 116.37,94.9 116.54,93.9 116.71,93.6 116.88,94.3 117.05,94.4 117.22,96.0 117.39,95.2 117.56,96.4 117.73,96.7 117.90,96.4 118.07,95.3 118.24,95.3 118.41,95.7 118.58,96.1 118.75,96.7 118.92,96.6 119.09,95.4 119.26,96.5 119.43,95.6 119.60,96.7 119.77,94.7 119.94,97.0 120.11,96.8 120.28,95.7 120.45,96.2 120.62,96.6 120.79,97.4 120.96,98.6 121.13,98.8 121.30,97.9 121.47,96.6 121.64,98.9 121.81,98.9 121.98,96.7 122.15,98.3 122.32,98.4 122.49,98.4 122.66,98.7 122.83,96.8 123.00,97.7 123.17,97.9 123.34,98.8 123.51,97.4 123.68,98.0 123.85,97.8 124.02,97.4 124.19,98.5 124.36,97.8 124.53,98.5 124.70,97.7 124.87,99.2 125.04,97.5 125.21,99.2 125.38,98.9 125.55,97.7 125.72,98.4 125.89,98.6 126.06,99.1 126.23,99.9 126.40,98.4 126.57,98.9 126.74,100.4 126.91,99.0 127.08,101.0 127.25,99.9 127.42,99.1 127.59,101.2 127.76,100.0 127.93,102.1 128.10,102.1 128.27,102.1 128.44,102.2 128.61,100.1 128.78,100.0 128.95,100.8 129.12,100.7 129.29,100.5 129.46,100.9 129.63,101.4 129.80,101.5 129.97,102.0 130.14,101.5 130.31,102.1 130.48,100.2 130.65,100.2 130.82,101.4 130.99,102.6 131.16,101.3 131.33,100.6 131.50,100.8 131.67,101.1 131.84,102.9 132.01,101.8 132.18,103.4 132.35,103.9 132.52,103.7 132.69,104.2 132.86,102.6 133.03,102.5 133.20,102.7 133.37,102.1 133.54,104.5 133.71,102.7 133.88,103.8 134.05,102.9 134.22,103.7 134.39,103.4 134.56,104.2 134.73,102.9 134.90,103.2 135.07,102.8 135.24,103.2 135.41,104.6 135.58,104.9 135.75,102.5 135.92,104.7 136.09,104.6 136.26,103.0 136.43,103.3 136.60,105.3 136.77,103.7 136.94,105.6 137.11,104.8 137.28,106.1 137.45,105.0 137.62,104.2 137.79,105.6 137.96,105.3 138.13,104.4 138.30,106.4 138.47,106.6 138.64,106.8 138.81,106.0 138.98,105.8 139.15,104.9 139.32,107.1 139.49,106.7 139.66,106.8 139.83,107.1 140.00,107.6 140.17,106.5 140.34,106.0 140.51,108.4 140.68,106.0 140.85,106.6 141.02,107.3 141.19,106.1 141.36,106.9 141.53,108.4 141.70,107.9 141.87,108.0 142.04,106.7 142.21,108.0 142.38,107.3 142.55,108.1 142.72,108.1 142.89,108.2 143.06,107.8 143.23,108.9 143.40,108.1 143.57,109.3 143.74,108.0 143.91,107.7 144.08,108.5 144.25,110.0 144.42,108.8 144.59,110.1 144.76,109.9 144.93,109.0 145.10,109.0 145.27,109.0 145.44,110.1 145.61,111.0 145.78,110.1 145.95,112.0 146.12,109.6 146.29,111.7 146.46,110.2 146.63,112.4 146.80,110.2 146.97,112.5 147.14,111.3 147.31,111.2 147.48,110.7 147.65,111.3 147.82,111.7 147.99,113.2 148.16,113.3 148.33,111.1 148.50,112.4 148.67,111.2 148.84,111.5 149.01,113.0 149.18,113.0 149.35,114.1 149.52,114.2 149.69,112.4 149.86,113.7 150.03,114.2 150.20,114.2 150.37,113.8 150.54,113.7 150.71,114.0 150.88,113.7 151.05,114.2 151.22,115.1 151.39,113.7 151.56,114.0 151.73,114.0 151.90,115.1 152.07,113.6 152.24,114.2 152.41,115.1 152.58,114.3 152.75,115.7 152.92,115.1 153.09,114.0 153.26,114.8 153.43,114.2 153.60,115.0 153.77,114.8 153.94,114.7 154.11,115.9 154.28,116.1 154.45,115.8 154.62,115.9 154.79,116.3 154.96,116.5 155.13,114.7 155.30,116.7 155.47,114.9 155.64,115.3 155.81,116.8 155.98,115.2 156.15,117.5 156.32,117.5 156.49,115.1 156.66,116.9 156.83,117.7 157.00,116.8 157.17,116.9 157.34,117.1 157.51,117.1 157.68,117.2 157.85,117.4 158.02,118.2 158.19,115.9 158.36,116.4 158.53,115.9 158.70,116.2 158.87,116.7 159.04,118.7 159.21,117.3 159.38,118.1 159.55,117.4 159.72,119.2 159.89,117.2 160.06,117.8 160.23,117.8 160.40,117.5 160.57,117.3 160.74,118.2 160.91,117.9 161.08,117.5 161.25,119.8 161.42,118.5 161.59,117.7 161.76,119.4 161.93,119.1 162.10,119.7 162.27,119.0 162.44,118.5 162.61,119.9 162.78,119.4 162.95,120.7 163.12,119.3 163.29,119.0 163.46,118.9 163.63,119.1 163.80,119.1 163.97,119.9 164.14,119.6 164.31,121.3 164.48,119.5 164.65,121.6 164.82,120.3 164.99,120.9 165.16,122.3 165.33,121.9 165.50,122.4 165.67,121.3 165.84,120.6 166.01,121.5 166.18,121.5 166.35,119.9 166.52,120.2 166.69,122.5 166.86,122.2 167.03,122.6 167.20,121.1 167.37,123.3 167.54,121.6 167.71,121.3 167.88,121.9 168.05,122.0 168.22,121.3 168.39,123.5 168.56,123.6 168.73,121.9 168.90,122.9 169.07,123.8 169.24,122.6 169.41,123.0 169.58,122.4 169.75,123.0 169.92,122.5 170.09,123.8 170.26,122.0 170.43,121.6 170.60,123.8 170.77,121.8 170.94,122.7 171.11,123.0 171.28,121.9 171.45,123.5 171.62,122.0 171.79,121.8 171.96,121.7 172.13,124.1 172.30,122.5 172.47,124.4 172.64,123.3 172.81,124.6 172.98,122.5 173.15,124.5 173.32,124.8 173.49,124.1 173.66,122.6 173.83,124.9 174.00,124.4 174.17,122.9 174.34,124.9 174.51,122.7 174.68,122.9 174.85,122.7 175.02,124.2 175.19,123.8 175.36,123.0 175.53,124.2 175.70,125.3 175.87,123.3 176.04,124.9 176.21,123.7 176.38,124.7 176.55,124.3 176.72,124.2 176.89,123.5 177.06,125.0 177.23,124.6 177.40,125.2 177.57,123.9 177.74,125.9 177.91,123.3 178.08,123.7 178.25,124.8 178.42,123.6 178.59,124.1 178.76,124.9 178.93,125.7 179.10,126.1 179.27,124.8 179.44,125.7 179.61,124.1 179.78,126.4 179.95,125.8 180.12,126.4 180.29,124.6 180.46,125.3 180.63,125.9 180.80,124.0 180.97,126.1 181.14,125.9 181.31,126.2 181.48,124.8 181.65,126.5 181.82,126.1 181.99,125.1 182.16,125.0 182.33,127.0 182.50,125.8 182.67,125.4 182.84,125.6 183.01,126.3 183.18,124.8 183.35,124.8 183.52,126.1 183.69,126.9 183.86,126.5 184.03,127.4 184.20,125.9 184.37,126.3 184.54,126.5 184.71,126.5 184.88,126.3 185.05,127.6 185.22,126.2 185.39,126.5 185.56,126.6 185.73,128.0 185.90,126.3 186.07,127.2 186.24,126.4 186.41,127.7 186.58,126.7 186.75,125.8 186.92,127.1 187.09,126.7 187.26,126.6 187.43,126.7 187.60,126.1 187.77,128.1 187.94,127.7 188.11,128.1 188.28,128.0 188.45,127.6 188.62,128.0 188.79,128.1 188.96,129.4 189.13,128.1 189.30,127.7 189.47,127.6 189.64,128.3 189.81,129.0 189.98,129.0 190.15,129.4 190.32,129.1 190.49,127.6 190.66,128.4 190.83,128.3 191.00,127.7 191.17,128.9 191.34,129.4 191.51,127.5 191.68,128.8 191.85,127.8 192.02,129.6 192.19,129.1 192.36,127.9 192.53,129.2 192.70,128.5 192.87,128.4 193.04,129.6 193.21,128.9 193.38,130.2 193.55,130.2 193.72,130.1 193.89,128.9 194.06,130.3 194.23,128.1 194.40,130.0 194.57,128.9 194.74,130.2 194.91,128.1 195.08,129.6 195.25,128.4 195.42,129.0 195.59,129.8 195.76,128.8 195.93,130.3 196.10,129.9 196.27,129.2 196.44,130.1 196.61,129.9 196.78,128.9 196.95,130.7 197.12,130.7 197.29,131.3 197.46,131.4 197.63,130.0 197.80,130.8 197.97,130.8 198.14,129.5 198.31,131.3 198.48,130.2 198.65,130.6 198.82,131.1 198.99,130.7 199.16,130.1 199.33,131.7 199.50,129.7 199.67,131.1 199.84,130.1 200.01,132.1 200.18,132.3 200.35,131.9 200.52,132.4 200.69,132.2 200.86,132.0 201.03,132.3 201.20,132.7 201.37,130.9 201.54,132.3 201.71,131.0 201.88,131.8 202.05,131.6 202.22,132.5 202.39,132.6 202.56,133.3 202.73,133.2 202.90,131.2 203.07,131.5 203.24,131.1 203.41,132.9 203.58,132.0 203.75,133.7 203.92,131.8 204.09,133.7 204.26,133.2 204.43,133.2 204.60,132.9 204.77,133.6 204.94,132.0 205.11,133.7 205.28,133.9 205.45,133.4 205.62,133.7 205.79,132.7 205.96,133.5 206.13,133.8 206.30,133.1 206.47,132.4 206.64,134.8 206.81,134.6 206.98,133.6 207.15,134.2 207.32,134.6 207.49,135.7 207.66,134.7 207.83,135.2 208.00,135.4 208.17,133.5 208.34,134.6 208.51,135.4 208.68,135.0 208.85,135.2 209.02,133.2 209.19,134.8 209.36,133.5 209.53,135.2 209.70,135.1 209.87,134.2 210.04,134.9 210.21,134.8 210.38,136.1 210.55,135.2 210.72,134.0 210.89,135.3 211.06,134.0 211.23,134.4 211.40,135.4 211.57,135.4 211.74,134.4 211.91,135.2 212.08,135.1 212.25,135.1 212.42,135.6 212.59,134.6 212.76,134.7 212.93,135.3 213.10,136.6 213.27,137.2 213.44,136.7 213.61,134.9 213.78,136.7 213.95,136.6 214.12,136.5 214.29,136.2 214.46,134.9 214.63,135.5 214.80,135.4 214.97,134.3 215.14,135.7 215.31,135.1 215.48,136.9 215.65,136.3 215.82,136.7 215.99,134.8 216.16,136.6 216.33,136.9 216.50,135.9 216.67,135.3 216.84,135.9 217.01,136.1 217.18,135.8 217.35,135.6 217.52,136.6 217.69,137.3 217.86,135.8 218.03,137.4 218.20,135.3 218.37,137.0 218.54,136.2 218.71,136.8 218.88,136.4 219.05,135.8 219.22,136.1 219.39,138.3 219.56,136.8 219.73,138.2 219.90,137.1 220.07,138.1 220.24,136.9 220.41,138.3 220.58,137.0 220.75,136.5 220.92,136.3 221.09,136.1 221.26,136.3 221.43,137.8 221.60,136.9 221.77,138.2 221.94,136.4 222.11,138.3 222.28,136.3 222.45,136.5 222.62,136.8 222.79,136.6 222.96,137.1 223.13,138.2 223.30,136.4 223.47,136.9 223.64,136.4 223.81,138.3 223.98,136.6 224.15,137.6 224.32,138.6 224.49,137.2 224.66,136.7 224.83,137.0 225.00,138.7 225.17,136.4 225.34,138.4 225.51,136.5 225.68,136.7 225.85,138.5 226.02,138.3 226.19,137.7 226.36,138.9 226.53,137.6 226.70,139.6 226.87,138.9 227.04,139.8 227.21,139.0 227.38,139.0 227.55,139.8 227.72,139.3 227.89,138.1 228.06,139.7 228.23,139.0 228.40,140.0 228.57,140.9 228.74,139.8 228.91,140.3 229.08,138.9 229.25,137.9 229.42,137.8 229.59,137.7 229.76,138.1 229.93,138.3 230.10,138.5 230.27,139.4 230.44,139.7 230.61,139.9 230.78,139.9 230.95,140.4 231.12,140.2 231.29,139.7 231.46,139.7 231.63,138.9 231.80,138.8 231.97,141.0 232.14,139.0 232.31,140.8 232.48,139.4 232.65,138.4 232.82,140.3 232.99,140.0 233.16,140.7 233.33,139.5 233.50,140.5 233.67,139.4 233.84,138.7 234.01,139.1 234.18,139.8 234.35,140.4 234.52,140.2 234.69,140.5 234.86,139.6 235.03,139.5 235.20,139.7 235.37,140.9 235.54,139.6 235.71,139.1 235.88,140.2 236.05,141.0 236.22,141.6 236.39,141.9 236.56,141.2 236.73,141.5 236.90,141.4 237.07,141.4 237.24,140.9 237.41,141.8 237.58,141.7 237.75,139.5 237.92,139.9 238.09,142.2 238.26,141.3 238.43,139.9 238.60,141.9 238.77,139.7 238.94,140.8 239.11,140.4 239.28,140.0 239.45,139.8 239.62,139.4 239.79,140.0 239.96,139.2 240.13,140.4 240.30,139.5 240.47,140.6 240.64,141.1 240.81,141.1 240.98,140.8 241.15,141.2 241.32,139.6 241.49,142.1 241.66,141.3 241.83,141.5 242.00,142.0 242.17,140.8 242.34,141.5 242.51,140.5 242.68,142.5 242.85,141.3 243.02,140.3 243.19,142.5 243.36,141.6 243.53,142.2 243.70,142.5 243.87,142.3 244.04,141.7 244.21,141.3 244.38,140.7 244.55,142.1 244.72,140.7 244.89,141.3 245.06,142.7 245.23,142.7 245.40,142.6 245.57,141.0 245.74,143.1 245.91,141.1 246.08,143.2 246.25,142.8 246.42,143.4 246.59,143.5 246.76,142.3 246.93,141.7 247.10,143.3 247.27,141.7 247.44,141.7 247.61,142.3 247.78,141.2 247.95,142.1 248.12,141.3 248.29,142.1 248.46,143.4 248.63,143.5 248.80,143.7 248.97,143.2 249.14,143.4 249.31,142.6 249.48,144.0 249.65,142.1 249.82,142.2 249.99,142.1 250.16,142.8 250.33,141.8 250.50,143.4 250.67,141.9 250.84,143.1 251.01,142.8 251.18,143.1 251.35,143.2 251.52,143.5 251.69,142.8 251.86,143.1 252.03,142.4 252.20,143.1 252.37,142.1 252.54,144.4 252.71,144.3 252.88,142.2 253.05,142.1 253.22,143.1 253.39,143.6 253.56,143.5 253.73,143.2 253.90,144.0 254.07,143.4 254.24,143.4 254.41,142.4 254.58,143.9 254.75,142.6 254.92,144.8 255.09,143.9 255.26,143.7 255.43,144.6 255.60,145.3 255.77,143.5 255.94,144.1 256.11,145.6 256.28,145.3 256.45,144.1 256.62,144.0 256.79,145.3 256.96,143.4 257.13,143.6 257.30,144.8 257.47,144.7 257.64,144.6 257.81,144.9 257.98,145.1 258.15,143.8 258.32,143.5 258.49,145.0 258.66,143.5 258.83,145.3 259.00,145.0 259.17,145.5 259.34,145.1 259.51,143.8 259.68,145.5 259.85,144.9 260.02,144.2 260.19,143.9 260.36,144.3 260.53,143.9 260.70,143.9 260.87,145.7 261.04,146.0 261.21,146.1 261.38,145.0 261.55,145.1 261.72,143.8 261.89,144.0 262.06,145.8 262.23,145.3 262.40,145.4 262.57,146.0 262.74,146.3 262.91,146.1 263.08,144.4 263.25,145.9 263.42,146.8 263.59,146.9 263.76,147.3 263.93,146.3 264.10,146.3 264.27,145.0 264.44,146.1 264.61,146.2 264.78,147.1 264.95,147.0 265.12,144.9 265.29,145.2 265.46,145.9 265.63,147.1 265.80,145.6 265.97,147.2 266.14,146.8 266.31,147.6 266.48,146.3 266.65,146.4 266.82,145.5 266.99,146.7 267.16,147.4 267.33,146.8 267.50,146.8 267.67,147.9 267.84,147.5 268.01,146.4 268.18,148.0 268.35,147.4 268.52,146.3 268.69,146.1 268.86,147.3 269.03,147.0 269.20,147.3 269.37,146.1 269.54,147.8 269.71,148.0 269.88,146.8 270.05,146.4 270.22,148.1 270.39,148.1 270.56,145.9 270.73,147.1 270.90,147.0 271.07,146.7 271.24,147.4 271.41,147.9 271.58,147.2 271.75,147.1 271.92,148.6 272.09,148.1 272.26,147.2 272.43,147.0 272.60,147.7 272.77,149.3 272.94,149.1 273.11,147.6 273.28,148.7 273.45,147.2 273.62,149.6 273.79,149.7 273.96,147.8 274.13,148.2 274.30,148.0 274.47,147.6 274.64,148.8 274.81,148.0 274.98,147.0 275.15,147.6 275.32,148.8 275.49,149.0 275.66,147.3 275.83,148.8 276.00,149.1 276.17,149.2 276.34,149.3 276.51,149.7 276.68,148.6 276.85,149.9 277.02,148.8 277.19,147.8 277.36,149.3 277.53,148.5 277.70,149.4 277.87,148.8 278.04,149.2 278.21,149.5 278.38,149.9 278.55,148.9 278.72,149.9 278.89,148.7 279.06,150.0 279.23,148.4 279.40,147.8 279.57,147.6 279.74,148.9 279.91,148.2 280.08,148.9 280.25,148.3 280.42,148.8 280.59,150.1 280.76,150.4 280.93,148.2 281.10,150.6 281.27,149.4 281.44,150.1 281.61,150.6 281.78,148.7 281.95,149.3 282.12,150.6 282.29,149.8 282.46,150.8 282.63,150.7 282.80,151.2 282.97,150.3 283.14,148.8 283.31,151.0 283.48,149.2 283.65,149.3 283.82,149.9 283.99,149.6 284.16,149.4 284.33,150.7 284.50,151.4 284.67,149.7 284.84,150.0 285.01,150.6 285.18,149.7 285.35,150.2 285.52,151.3 285.69,149.2 285.86,150.3 286.03,149.5 286.20,151.0 286.37,149.4 286.54,151.0 286.71,149.8 286.88,151.1 287.05,149.6 287.22,149.9 287.39,148.9 287.56,149.3 287.73,149.6 287.90,150.9 288.07,150.1 288.24,150.7 288.41,150.9 288.58,149.0 288.75,149.6 288.92,151.0 289.09,150.8 289.26,150.3 289.43,150.0 289.60,150.2 289.77,149.0 289.94,149.3 290.11,150.0 290.28,149.4 290.45,149.7 290.62,151.2 290.79,151.2 290.96,151.1 291.13,150.8 291.30,151.8 291.47,150.1 291.64,151.2 291.81,150.7 291.98,152.1 292.15,150.5 292.32,150.2 292.49,151.6 292.66,151.7 292.83,151.4 293.00,151.6 293.17,150.1 293.34,151.2 293.51,151.0 293.68,152.1 293.85,150.8 294.02,150.5 294.19,150.8 294.36,151.4 294.53,152.7 294.70,152.0 294.87,152.1 295.04,151.4 295.21,151.2 295.38,152.5 295.55,151.2 295.72,150.3 295.89,152.0 296.06,150.5 296.23,151.1 296.40,151.9 296.57,152.6 296.74,150.6 296.91,152.4 297.08,151.1 297.25,152.3 297.42,152.1 297.59,151.8 297.76,151.4 297.93,151.6 298.10,152.7 298.27,151.1 298.44,151.4 298.61,150.6 298.78,151.3 298.95,150.5 299.12,152.8 299.29,151.4 299.46,152.9 299.63,150.8 299.80,152.2 299.97,152.0 300.14,152.2 300.31,152.5 300.48,150.6 300.65,152.3 300.82,150.5 300.99,151.2 301.16,152.7 301.33,152.1 301.50,153.1 301.67,153.0 301.84,151.9 302.01,151.6 302.18,151.4 302.35,150.9 302.52,152.7 302.69,152.9 302.86,151.0 303.03,152.1 303.20,153.0 303.37,152.4 303.54,151.8 303.71,153.1 303.88,151.7 304.05,151.4 304.22,151.9 304.39,151.6 304.56,151.7 304.73,152.0 304.90,150.9 305.07,152.3 305.24,152.3 305.41,152.6 305.58,151.3 305.75,150.7 305.92,152.3 306.09,151.3 306.26,151.8 306.43,150.9 306.60,151.2 306.77,151.1 306.94,151.8 307.11,152.4 307.28,151.5 307.45,151.8 307.62,152.3 307.79,152.9 307.96,152.0 308.13,151.2 308.30,152.3 308.47,152.0 308.64,153.4 308.81,152.3 308.98,150.9 309.15,152.6 309.32,151.2 309.49,152.1 309.66,151.4 309.83,152.9 310.00,151.9 310.17,153.9 310.34,151.9 310.51,153.8 310.68,153.7 310.85,152.6 311.02,152.5 311.19,152.4 311.36,153.4 311.53,152.0 311.70,152.5 311.87,151.8 312.04,152.8 312.21,152.3 312.38,154.3 312.55,153.1 312.72,152.7 312.89,152.9 313.06,152.8 313.23,152.6 313.40,152.6 313.57,154.3 313.74,152.7 313.91,154.6 314.08,154.8 314.25,154.6 314.42,152.6 314.59,154.2 314.76,153.7 314.93,154.7 315.10,153.1 315.27,154.0 315.44,154.0 315.61,153.0 315.78,154.0 315.95,154.3 316.12,154.5 316.29,154.5 316.46,152.3 316.63,154.2 316.80,153.0 316.97,154.2 317.14,152.6 317.31,153.2 317.48,153.4 317.65,154.1 317.82,154.0 317.99,154.5 318.16,152.4 318.33,153.0 318.50,154.2 318.67,152.9 318.84,154.4 319.01,153.0 319.18,153.9 319.35,152.3 319.52,154.6 319.69,152.5 319.86,153.2 320.03,153.1 320.20,152.9 320.37,153.5 320.54,153.6 320.71,154.4 320.88,155.1 321.05,154.8 321.22,154.8 321.39,153.5 321.56,153.5 321.73,152.9 321.90,153.0 322.07,154.6 322.24,152.6 322.41,153.1 322.58,153.3 322.75,152.7 322.92,153.3 323.09,153.1 323.26,153.6 323.43,153.0 323.60,152.6 323.77,154.9 323.94,154.4 324.11,154.4 324.28,153.0 324.45,154.8 324.62,154.5 324.79,153.5 324.96,153.2 325.13,154.5 325.30,152.5 325.47,153.9 325.64,154.7 325.81,154.9 325.98,155.1 326.15,153.9 326.32,153.0 326.49,154.0 326.66,153.8 326.83,154.6 327.00,154.9 327.17,155.5 327.34,153.8 327.51,153.9 327.68,153.1 327.85,155.0 328.02,154.0 328.19,153.3 328.36,153.9 328.53,153.8 328.70,154.7 328.87,153.2 329.04,154.1 329.21,154.0 329.38,153.2 329.55,153.4 329.72,153.7 329.89,154.2 330.06,154.6 330.23,155.1 330.40,155.6 330.57,153.5 330.74,155.8 330.91,154.4 331.08,155.4 331.25,154.3 331.42,155.3 331.59,155.2 331.76,153.4 331.93,155.6 332.10,153.4 332.27,154.5 332.44,153.7 332.61,154.6 332.78,153.5 332.95,154.5 333.12,154.8 333.29,154.3 333.46,154.8 333.63,153.6 333.80,154.3 333.97,153.7 334.14,154.9 334.31,152.8 334.48,154.9 334.65,152.7 334.82,155.0 334.99,153.1 335.16,154.8 335.33,153.3 335.50,155.1 335.67,153.7 335.84,153.3 336.01,155.4 336.18,154.7 336.35,155.4 336.52,155.3 336.69,153.5 336.86,153.5 337.03,155.0 337.20,155.4 337.37,153.6 337.54,155.5 337.71,153.2 337.88,155.2 338.05,154.8 338.22,154.2 338.39,154.2 338.56,154.0 338.73,154.5 338.90,154.6 339.07,153.8 339.24,153.5 339.41,154.9 339.58,154.0 339.75,153.8 339.92,154.2 340.09,154.0 340.26,155.9 340.43,154.5 340.60,155.5 340.77,153.9 340.94,155.7 341.11,156.5 341.28,156.0 341.45,155.9 341.62,154.9 341.79,154.9 341.96,155.9 342.13,154.0 342.30,154.5 342.47,155.0 342.64,153.9 342.81,154.2 342.98,153.1 343.15,154.9 343.32,153.7 343.49,154.0 343.66,154.1 343.83,155.5 344.00,154.8 344.17,156.5 344.34,156.1 344.51,156.4 344.68,155.9 344.85,154.7 345.02,154.9 345.19,154.9 345.36,154.4 345.53,155.1 345.70,156.0 345.87,155.3 346.04,154.5 346.21,156.2 346.38,156.9 346.55,155.7 346.72,155.0 346.89,156.5 347.06,156.1 347.23,156.7 347.40,156.1 347.57,156.8 347.74,154.5 347.91,156.1 348.08,156.0 348.25,156.5 348.42,155.1 348.59,156.1 348.76,155.3 348.93,156.5 349.10,154.7 349.27,154.8 349.44,156.8 349.61,156.1 349.78,154.7 349.95,154.9 350.12,155.2 350.29,154.8 350.46,154.6 350.63,156.9 350.80,155.0 350.97,156.4 351.14,156.4 351.31,156.4 351.48,155.2 351.65,155.0 351.82,156.1 351.99,157.1 352.16,155.6 352.33,155.2 352.50,155.9 352.67,155.1 352.84,155.5 353.01,156.5 353.18,155.3 353.35,155.8 353.52,156.4 353.69,155.1 353.86,155.1 354.03,157.3 354.20,157.0 354.37,157.1 354.54,156.3 354.71,156.2 354.88,155.2 355.05,155.6 355.22,155.4 355.39,156.6 355.56,156.5 355.73,155.9 355.90,155.7 356.07,157.0 356.24,155.8 356.41,155.5 356.58,156.0 356.75,157.4 356.92,157.0 357.09,156.7 357.26,156.0 357.43,156.8 357.60,155.7 357.77,156.7 357.94,157.1 358.11,156.2 358.28,157.4 358.45,157.1 358.62,156.0 358.79,156.3 358.96,157.1 359.13,158.2 359.30,156.0 359.47,157.2 359.64,156.4 359.81,156.6 359.98,157.9 360.15,157.1 360.32,156.1 360.49,156.4 360.66,157.7 360.83,157.3 361.00,156.1 361.17,156.4 361.34,156.3 361.51,155.5 361.68,157.8 361.85,155.9 362.02,155.9 362.19,155.7 362.36,157.8 362.53,157.7 362.70,157.0 362.87,156.7 363.04,156.9 363.21,156.3 363.38,157.7 363.55,156.9 363.72,157.7 363.89,157.3 364.06,157.3 364.23,157.3 364.40,157.6 364.57,157.7 364.74,157.4 364.91,156.5 365.08,156.4 365.25,156.2 365.42,158.0 365.59,157.0 365.76,155.7 365.93,157.3 366.10,158.0" stroke="#a6a6a6"/>
<polyline points="366.10,158.0 366.40,216.6" stroke="#a6a6a6" stroke-width="1.2"/>
<polyline points="366.40,216.6 366.42,216.4 366.45,216.3 366.47,216.2 366.50,215.9 366.52,215.8 366.54,215.7 366.57,215.6 366.59,215.3 366.61,215.3 366.64,215.2 366.66,215.1 366.69,214.7 366.71,214.7 366.73,214.6 366.76,214.4 366.78,214.3 366.81,214.1 366.83,214.0 366.85,213.8 366.88,213.7 366.90,213.7 366.94,213.5 366.97,213.2 367.01,213.0 367.04,212.9 367.08,212.9 367.11,212.8 367.15,212.3 367.18,212.4 367.21,212.0 367.25,211.9 367.28,211.8 367.32,211.6 367.35,211.7 367.39,211.4 367.45,211.2 367.53,211.5 367.61,210.9 367.69,210.7 367.77,210.6 367.85,210.2 367.93,210.8 368.01,210.6 368.09,210.2 368.17,210.5 368.26,209.9 368.34,209.6 368.42,209.3 368.50,209.4 368.58,209.5 368.70,209.2 368.85,209.3 368.99,208.6 369.14,208.5 369.28,209.6 369.43,209.1 369.57,209.8 369.72,209.8 369.87,208.9 370.01,209.1 370.16,209.6 370.30,208.4 370.45,209.6 370.59,208.8 370.74,208.5 370.88,208.9 371.03,209.2 371.18,209.5 371.33,209.4 371.48,208.0 371.63,208.2 371.78,208.5 371.92,208.0 372.07,208.7 372.22,208.7 372.37,208.8 372.52,208.5 372.67,208.2 372.82,208.9 372.97,207.9 373.12,207.8 373.27,209.1 373.41,208.1 373.56,208.0 373.71,208.1 373.86,208.7 374.01,208.1 374.16,208.8 374.31,208.8 374.46,208.3" stroke="#a6a6a6" stroke-width="1.6"/>
<polyline points="75.40,58.1 75.57,57.7 75.74,56.1 75.91,56.2 76.08,55.8 76.25,57.3 76.42,55.8 76.59,56.3 76.76,55.2 76.93,57.2 77.10,56.8 77.27,56.6 77.44,56.7 77.61,55.8 77.78,55.4 77.95,55.0 78.12,56.1 78.29,57.5 78.46,55.4 78.63,55.9 78.80,57.0 78.97,55.9 79.14,56.6 79.31,57.8 79.48,56.4 79.65,56.5 79.82,56.3 79.99,56.0 80.16,57.5 80.33,57.8 80.50,56.8 80.67,56.0 80.84,56.0 81.01,57.2 81.18,57.2 81.35,57.5 81.52,55.8 81.69,56.0 81.86,56.4 82.03,56.8 82.20,57.9 82.37,56.1 82.54,56.7 82.71,56.2 82.88,58.0 83.05,57.7 83.22,57.8 83.39,56.4 83.56,56.8 83.73,57.6 83.90,55.3 84.07,57.3 84.24,57.2 84.41,56.4 84.58,57.4 84.75,57.5 84.92,56.0 85.09,58.1 85.26,58.1 85.43,56.3 85.60,58.2 85.77,57.2 85.94,57.2 86.11,58.0 86.28,58.5 86.45,56.8 86.62,56.4 86.79,58.2 86.96,57.1 87.13,57.3 87.30,57.1 87.47,58.2 87.64,57.4 87.81,57.8 87.98,58.0 88.15,56.0 88.32,57.5 88.49,57.6 88.66,56.2 88.83,56.2 89.00,55.9 89.17,56.7 89.34,57.5 89.51,56.1 89.68,57.6 89.85,55.5 90.02,56.2 90.19,55.9 90.36,57.8 90.53,55.8 90.70,57.6 90.87,56.8 91.04,56.3 91.21,56.8 91.38,56.1 91.55,57.4 91.72,57.6 91.89,57.0 92.06,57.8 92.23,57.6 92.40,57.3 92.57,57.3 92.74,56.4 92.91,55.6 93.08,56.5 93.25,56.3 93.42,55.6 93.59,57.0 93.76,56.4 93.93,56.9 94.10,55.6 94.27,55.6 94.44,55.2 94.61,57.3 94.78,56.7 94.95,55.9 95.12,55.3 95.29,56.3 95.46,57.6 95.63,58.0 95.80,56.2 95.97,58.2 96.14,56.4 96.31,55.8 96.48,56.0 96.65,55.5 96.82,55.9 96.99,57.2 97.16,56.3 97.33,57.0 97.50,55.1 97.67,56.6 97.84,54.8 98.01,55.1 98.18,56.4 98.35,55.7 98.52,55.6 98.69,55.4 98.86,54.8 99.03,55.8 99.20,55.8 99.37,57.2 99.54,57.4 99.71,58.6 99.88,59.1 100.05,59.7 100.22,58.3 100.39,58.6 100.56,60.1 100.73,62.0 100.90,61.6 101.07,62.0 101.24,63.1 101.41,63.0 101.58,62.0 101.75,63.3 101.92,64.7 102.09,64.9 102.26,63.4 102.43,66.3 102.60,65.5 102.77,65.4 102.94,66.4 103.11,68.3 103.28,68.7 103.45,67.8 103.62,68.9 103.79,67.8 103.96,70.0 104.13,68.3 104.30,70.2 104.47,69.3 104.64,69.1 104.81,69.3 104.98,71.7 105.15,70.1 105.32,71.1 105.49,70.7 105.66,72.0 105.83,73.2 106.00,72.1 106.17,73.6 106.34,73.0 106.51,72.7 106.68,74.8 106.85,73.8 107.02,74.8 107.19,75.9 107.36,75.5 107.53,74.7 107.70,75.7 107.87,76.3 108.04,75.1 108.21,77.2 108.38,75.4 108.55,75.0 108.72,76.4 108.89,76.3 109.06,75.6 109.23,76.5 109.40,76.1 109.57,77.7 109.74,77.0 109.91,77.3 110.08,76.5 110.25,78.8 110.42,77.2 110.59,78.1 110.76,78.7 110.93,78.1 111.10,77.6 111.27,78.5 111.44,78.8 111.61,77.4 111.78,77.8 111.95,77.8 112.12,77.5 112.29,79.3 112.46,80.5 112.63,78.7 112.80,80.6 112.97,79.3 113.14,80.7 113.31,78.6 113.48,79.2 113.65,80.6 113.82,80.8 113.99,80.6 114.16,80.4 114.33,79.6 114.50,81.5 114.67,80.6 114.84,81.4 115.01,80.4 115.18,81.9 115.35,81.1 115.52,81.4 115.69,80.0 115.86,80.8 116.03,80.0 116.20,80.7 116.37,81.4 116.54,80.7 116.71,80.1 116.88,81.4 117.05,82.4 117.22,81.6 117.39,82.8 117.56,81.9 117.73,82.4 117.90,81.9 118.07,81.4 118.24,83.3 118.41,82.7 118.58,83.5 118.75,83.6 118.92,83.7 119.09,82.7 119.26,82.5 119.43,82.3 119.60,82.9 119.77,83.2 119.94,83.8 120.11,84.1 120.28,83.4 120.45,83.0 120.62,82.4 120.79,83.3 120.96,82.7 121.13,84.3 121.30,82.8 121.47,83.3 121.64,82.9 121.81,82.9 121.98,84.4 122.15,83.0 122.32,83.4 122.49,82.8 122.66,85.2 122.83,85.3 123.00,84.1 123.17,85.6 123.34,83.8 123.51,83.8 123.68,84.6 123.85,83.6 124.02,85.4 124.19,85.5 124.36,83.3 124.53,84.2 124.70,84.3 124.87,85.9 125.04,86.0 125.21,83.7 125.38,86.2 125.55,85.5 125.72,85.2 125.89,85.2 126.06,86.4 126.23,84.7 126.40,85.5 126.57,84.9 126.74,85.7 126.91,86.8 127.08,86.9 127.25,85.1 127.42,85.4 127.59,86.6 127.76,85.3 127.93,85.1 128.10,87.3 128.27,85.2 128.44,87.6 128.61,87.0 128.78,86.6 128.95,86.4 129.12,86.8 129.29,88.1 129.46,87.4 129.63,86.3 129.80,87.4 129.97,86.8 130.14,88.3 130.31,86.4 130.48,87.2 130.65,86.0 130.82,86.6 130.99,87.8 131.16,87.6 131.33,88.4 131.50,86.5 131.67,87.5 131.84,86.7 132.01,88.3 132.18,86.9 132.35,89.2 132.52,88.1 132.69,88.3 132.86,88.0 133.03,88.2 133.20,89.5 133.37,89.2 133.54,88.3 133.71,89.4 133.88,88.3 134.05,87.4 134.22,87.8 134.39,88.3 134.56,88.5 134.73,87.9 134.90,89.4 135.07,88.3 135.24,89.5 135.41,89.2 135.58,89.6 135.75,90.3 135.92,89.7 136.09,89.4 136.26,89.5 136.43,89.0 136.60,90.3 136.77,89.9 136.94,88.4 137.11,88.5 137.28,89.5 137.45,90.9 137.62,88.9 137.79,89.2 137.96,91.2 138.13,90.5 138.30,90.0 138.47,89.0 138.64,88.6 138.81,89.4 138.98,89.1 139.15,90.9 139.32,90.0 139.49,90.0 139.66,90.3 139.83,90.0 140.00,89.4 140.17,90.7 140.34,90.8 140.51,91.2 140.68,90.2 140.85,89.4 141.02,91.7 141.19,89.3 141.36,89.8 141.53,91.3 141.70,91.8 141.87,92.1 142.04,91.2 142.21,90.4 142.38,89.7 142.55,91.5 142.72,91.3 142.89,89.8 143.06,91.4 143.23,91.8 143.40,89.8 143.57,90.8 143.74,90.3 143.91,90.9 144.08,89.6 144.25,91.7 144.42,90.3 144.59,91.3 144.76,90.3 144.93,90.2 145.10,92.4 145.27,90.6 145.44,92.5 145.61,92.3 145.78,91.6 145.95,91.7 146.12,90.3 146.29,92.4 146.46,92.2 146.63,92.1 146.80,92.8 146.97,92.1 147.14,92.0 147.31,93.0 147.48,92.5 147.65,92.7 147.82,91.5 147.99,91.5 148.16,91.4 148.33,93.0 148.50,93.5 148.67,93.5 148.84,92.5 149.01,93.2 149.18,91.6 149.35,92.2 149.52,93.9 149.69,92.2 149.86,91.8 150.03,92.6 150.20,93.5 150.37,94.1 150.54,91.8 150.71,93.5 150.88,94.1 151.05,94.2 151.22,94.5 151.39,93.8 151.56,94.3 151.73,93.1 151.90,93.6 152.07,93.4 152.24,93.1 152.41,93.1 152.58,93.7 152.75,92.2 152.92,94.0 153.09,93.7 153.26,92.4 153.43,92.9 153.60,94.2 153.77,93.1 153.94,94.2 154.11,93.1 154.28,94.8 154.45,93.4 154.62,95.2 154.79,93.8 154.96,94.0 155.13,93.4 155.30,95.0 155.47,93.1 155.64,94.9 155.81,94.1 155.98,95.0 156.15,94.4 156.32,95.3 156.49,94.2 156.66,93.5 156.83,95.4 157.00,95.3 157.17,95.1 157.34,94.4 157.51,93.5 157.68,92.8 157.85,94.9 158.02,94.6 158.19,94.1 158.36,94.4 158.53,95.2 158.70,93.8 158.87,93.3 159.04,93.6 159.21,95.9 159.38,93.9 159.55,95.9 159.72,93.4 159.89,95.1 160.06,94.7 160.23,94.7 160.40,93.5 160.57,95.1 160.74,95.4 160.91,96.0 161.08,96.1 161.25,96.0 161.42,94.1 161.59,96.2 161.76,95.2 161.93,96.1 162.10,96.2 162.27,94.1 162.44,95.1 162.61,95.4 162.78,95.8 162.95,96.8 163.12,94.6 163.29,96.3 163.46,96.1 163.63,95.3 163.80,96.7 163.97,96.9 164.14,95.3 164.31,95.3 164.48,96.3 164.65,97.6 164.82,97.3 164.99,96.9 165.16,96.2 165.33,97.7 165.50,96.6 165.67,95.8 165.84,97.1 166.01,95.9 166.18,97.9 166.35,97.0 166.52,97.6 166.69,97.8 166.86,97.5 167.03,97.4 167.20,97.4 167.37,96.3 167.54,95.4 167.71,96.1 167.88,97.2 168.05,96.4 168.22,98.2 168.39,96.5 168.56,97.6 168.73,96.2 168.90,97.1 169.07,98.1 169.24,98.4 169.41,96.3 169.58,98.3 169.75,98.8 169.92,96.4 170.09,98.4 170.26,96.4 170.43,98.1 170.60,99.0 170.77,96.7 170.94,98.4 171.11,96.8 171.28,98.0 171.45,97.4 171.62,97.9 171.79,98.5 171.96,97.0 172.13,97.4 172.30,97.0 172.47,97.9 172.64,97.2 172.81,97.1 172.98,99.1 173.15,99.1 173.32,97.4 173.49,98.9 173.66,98.9 173.83,97.9 174.00,97.7 174.17,97.4 174.34,98.3 174.51,97.1 174.68,98.2 174.85,97.9 175.02,98.4 175.19,99.2 175.36,97.9 175.53,98.3 175.70,98.9 175.87,98.6 176.04,99.6 176.21,98.2 176.38,100.2 176.55,100.3 176.72,98.3 176.89,99.4 177.06,99.1 177.23,99.3 177.40,99.0 177.57,100.0 177.74,100.7 177.91,99.3 178.08,100.8 178.25,100.8 178.42,100.5 178.59,101.2 178.76,100.4 178.93,100.9 179.10,101.3 179.27,100.9 179.44,100.2 179.61,99.4 179.78,100.2 179.95,100.5 180.12,100.6 180.29,99.9 180.46,100.9 180.63,99.9 180.80,99.5 180.97,101.7 181.14,101.7 181.31,100.5 181.48,101.0 181.65,99.8 181.82,102.3 181.99,100.8 182.16,101.5 182.33,100.2 182.50,100.2 182.67,101.3 182.84,101.5 183.01,102.4 183.18,101.7 183.35,101.5 183.52,101.5 183.69,100.7 183.86,100.9 184.03,101.6 184.20,100.4 184.37,100.9 184.54,100.6 184.71,100.4 184.88,101.5 185.05,101.3 185.22,101.8 185.39,101.4 185.56,100.5 185.73,102.6 185.90,100.5 186.07,100.5 186.24,100.7 186.41,102.8 186.58,101.7 186.75,103.3 186.92,101.6 187.09,101.8 187.26,102.5 187.43,103.1 187.60,103.0 187.77,101.6 187.94,102.5 188.11,101.0 188.28,102.4 188.45,102.8 188.62,102.0 188.79,103.1 188.96,102.4 189.13,103.7 189.30,102.0 189.47,103.2 189.64,104.3 189.81,103.4 189.98,104.2 190.15,104.2 190.32,103.7 190.49,103.8 190.66,103.7 190.83,103.1 191.00,103.8 191.17,103.8 191.34,103.9 191.51,101.7 191.68,101.7 191.85,102.8 192.02,103.4 192.19,102.7 192.36,102.7 192.53,101.8 192.70,103.4 192.87,104.4 193.04,103.6 193.21,102.7 193.38,103.8 193.55,103.3 193.72,103.5 193.89,102.8 194.06,104.7 194.23,103.1 194.40,105.4 194.57,103.4 194.74,105.6 194.91,104.5 195.08,104.6 195.25,105.0 195.42,104.2 195.59,104.2 195.76,105.5 195.93,106.0 196.10,103.9 196.27,104.2 196.44,106.0 196.61,105.2 196.78,105.8 196.95,104.5 197.12,105.6 197.29,105.5 197.46,105.7 197.63,105.1 197.80,104.8 197.97,105.0 198.14,104.5 198.31,104.4 198.48,105.2 198.65,106.4 198.82,105.1 198.99,105.6 199.16,106.4 199.33,104.6 199.50,105.3 199.67,105.4 199.84,106.3 200.01,106.7 200.18,104.3 200.35,105.6 200.52,104.1 200.69,104.8 200.86,105.0 201.03,104.7 201.20,105.1 201.37,105.0 201.54,105.4 201.71,104.8 201.88,105.2 202.05,104.8 202.22,105.3 202.39,106.1 202.56,104.5 202.73,107.1 202.90,105.0 203.07,106.7 203.24,105.5 203.41,105.0 203.58,106.9 203.75,106.4 203.92,105.6 204.09,105.8 204.26,107.0 204.43,106.5 204.60,105.4 204.77,105.3 204.94,106.3 205.11,105.3 205.28,105.8 205.45,107.5 205.62,107.4 205.79,105.6 205.96,106.7 206.13,106.6 206.30,107.5 206.47,106.6 206.64,106.1 206.81,107.7 206.98,106.1 207.15,107.4 207.32,106.7 207.49,107.7 207.66,106.8 207.83,108.8 208.00,107.6 208.17,108.5 208.34,108.7 208.51,108.0 208.68,108.2 208.85,107.0 209.02,108.1 209.19,108.0 209.36,108.9 209.53,107.4 209.70,106.9 209.87,107.6 210.04,108.7 210.21,106.7 210.38,106.9 210.55,109.4 210.72,108.3 210.89,108.7 211.06,108.1 211.23,107.4 211.40,108.6 211.57,107.5 211.74,108.0 211.91,107.3 212.08,109.1 212.25,107.8 212.42,108.6 212.59,107.4 212.76,108.6 212.93,107.9 213.10,107.6 213.27,108.2 213.44,107.7 213.61,109.1 213.78,109.0 213.95,109.8 214.12,107.6 214.29,108.6 214.46,110.1 214.63,108.5 214.80,107.9 214.97,109.9 215.14,108.2 215.31,109.9 215.48,109.5 215.65,110.4 215.82,109.4 215.99,109.8 216.16,108.7 216.33,110.6 216.50,108.6 216.67,110.2 216.84,109.9 217.01,109.4 217.18,109.2 217.35,108.6 217.52,110.5 217.69,109.0 217.86,110.7 218.03,110.7 218.20,108.9 218.37,109.2 218.54,110.3 218.71,110.5 218.88,108.8 219.05,110.9 219.22,110.8 219.39,110.3 219.56,111.0 219.73,111.2 219.90,109.2 220.07,111.2 220.24,111.1 220.41,110.5 220.58,109.4 220.75,111.7 220.92,111.2 221.09,110.2 221.26,109.9 221.43,111.4 221.60,109.3 221.77,110.7 221.94,109.6 222.11,110.2 222.28,110.6 222.45,108.9 222.62,109.5 222.79,109.4 222.96,110.3 223.13,109.8 223.30,112.0 223.47,111.8 223.64,111.4 223.81,110.4 223.98,110.5 224.15,111.4 224.32,112.1 224.49,112.1 224.66,112.0 224.83,110.4 225.00,111.3 225.17,110.9 225.34,111.1 225.51,111.5 225.68,110.6 225.85,110.6 226.02,111.0 226.19,110.6 226.36,112.3 226.53,111.2 226.70,110.4 226.87,112.1 227.04,113.2 227.21,112.2 227.38,111.7 227.55,113.3 227.72,112.6 227.89,112.5 228.06,112.0 228.23,112.7 228.40,112.3 228.57,112.0 228.74,111.4 228.91,112.6 229.08,113.0 229.25,110.9 229.42,110.7 229.59,111.0 229.76,113.0 229.93,112.4 230.10,111.9 230.27,113.4 230.44,113.4 230.61,112.0 230.78,111.8 230.95,112.1 231.12,112.2 231.29,112.8 231.46,112.8 231.63,111.3 231.80,112.9 231.97,111.1 232.14,111.6 232.31,112.3 232.48,111.6 232.65,112.4 232.82,111.7 232.99,113.8 233.16,113.5 233.33,112.4 233.50,113.1 233.67,112.7 233.84,113.8 234.01,112.4 234.18,112.4 234.35,113.9 234.52,113.9 234.69,113.9 234.86,112.2 235.03,112.2 235.20,114.5 235.37,114.6 235.54,112.7 235.71,113.5 235.88,113.4 236.05,113.1 236.22,112.6 236.39,113.2 236.56,115.2 236.73,114.0 236.90,113.5 237.07,113.3 237.24,114.9 237.41,115.4 237.58,113.8 237.75,115.0 237.92,112.9 238.09,113.1 238.26,114.3 238.43,112.9 238.60,113.9 238.77,114.0 238.94,112.9 239.11,115.1 239.28,115.0 239.45,115.2 239.62,114.9 239.79,114.0 239.96,115.1 240.13,114.7 240.30,114.8 240.47,115.1 240.64,113.9 240.81,115.5 240.98,114.4 241.15,114.0 241.32,114.5 241.49,115.7 241.66,115.1 241.83,113.5 242.00,114.1 242.17,115.2 242.34,116.0 242.51,115.0 242.68,115.1 242.85,113.7 243.02,114.1 243.19,115.8 243.36,114.3 243.53,115.0 243.70,115.4 243.87,115.2 244.04,115.7 244.21,115.4 244.38,114.5 244.55,115.3 244.72,115.6 244.89,114.1 245.06,116.5 245.23,115.7 245.40,116.7 245.57,116.4 245.74,114.3 245.91,114.4 246.08,116.4 246.25,114.7 246.42,116.4 246.59,116.5 246.76,115.8 246.93,115.4 247.10,114.9 247.27,116.2 247.44,115.6 247.61,114.3 247.78,116.1 247.95,115.2 248.12,114.8 248.29,115.5 248.46,116.9 248.63,116.6 248.80,115.6 248.97,116.7 249.14,116.0 249.31,115.5 249.48,114.9 249.65,116.4 249.82,115.3 249.99,116.0 250.16,115.4 250.33,116.4 250.50,114.9 250.67,115.4 250.84,116.4 251.01,117.1 251.18,116.9 251.35,115.9 251.52,116.4 251.69,116.9 251.86,118.1 252.03,116.2 252.20,117.8 252.37,116.0 252.54,117.7 252.71,115.7 252.88,116.3 253.05,116.3 253.22,117.0 253.39,116.1 253.56,117.3 253.73,117.8 253.90,117.1 254.07,115.3 254.24,115.5 254.41,117.4 254.58,116.5 254.75,116.8 254.92,117.8 255.09,117.5 255.26,117.1 255.43,116.6 255.60,116.1 255.77,116.3 255.94,116.1 256.11,117.0 256.28,118.4 256.45,116.2 256.62,117.2 256.79,117.4 256.96,118.3 257.13,118.4 257.30,117.5 257.47,117.4 257.64,117.8 257.81,117.2 257.98,118.2 258.15,118.4 258.32,116.8 258.49,117.7 258.66,117.2 258.83,116.7 259.00,117.5 259.17,118.1 259.34,117.9 259.51,117.6 259.68,118.1 259.85,118.0 260.02,116.7 260.19,118.4 260.36,118.6 260.53,117.7 260.70,118.2 260.87,117.1 261.04,118.3 261.21,117.6 261.38,118.0 261.55,118.0 261.72,117.4 261.89,116.7 262.06,118.7 262.23,118.5 262.40,117.4 262.57,117.5 262.74,118.8 262.91,118.6 263.08,117.4 263.25,118.9 263.42,117.6 263.59,119.0 263.76,117.2 263.93,119.5 264.10,118.1 264.27,119.6 264.44,117.9 264.61,118.2 264.78,117.8 264.95,118.6 265.12,117.7 265.29,118.7 265.46,118.7 265.63,119.0 265.80,118.2 265.97,118.2 266.14,117.8 266.31,118.5 266.48,118.6 266.65,118.1 266.82,118.9 266.99,118.0 267.16,118.7 267.33,118.5 267.50,119.1 267.67,119.8 267.84,118.0 268.01,119.1 268.18,118.3 268.35,119.1 268.52,120.1 268.69,120.0 268.86,120.2 269.03,120.5 269.20,119.2 269.37,119.3 269.54,118.7 269.71,119.0 269.88,119.8 270.05,119.9 270.22,120.1 270.39,119.7 270.56,118.5 270.73,120.1 270.90,120.7 271.07,120.7 271.24,118.5 271.41,119.4 271.58,119.8 271.75,120.1 271.92,120.6 272.09,118.7 272.26,121.0 272.43,119.9 272.60,121.4 272.77,121.0 272.94,120.0 273.11,121.4 273.28,120.1 273.45,119.2 273.62,119.4 273.79,120.2 273.96,120.8 274.13,119.6 274.30,121.3 274.47,119.5 274.64,121.5 274.81,120.7 274.98,121.0 275.15,120.2 275.32,120.6 275.49,120.2 275.66,120.5 275.83,121.3 276.00,121.0 276.17,121.1 276.34,119.9 276.51,119.5 276.68,120.3 276.85,121.2 277.02,120.6 277.19,119.5 277.36,121.0 277.53,121.4 277.70,121.2 277.87,121.3 278.04,121.3 278.21,121.2 278.38,120.8 278.55,121.7 278.72,120.9 278.89,120.2 279.06,122.0 279.23,122.0 279.40,119.8 279.57,121.5 279.74,120.9 279.91,120.2 280.08,120.3 280.25,119.9 280.42,120.9 280.59,120.4 280.76,121.8 280.93,122.6 281.10,120.9 281.27,120.8 281.44,121.5 281.61,120.3 281.78,120.3 281.95,120.3 282.12,121.9 282.29,121.0 282.46,121.7 282.63,121.8 282.80,120.5 282.97,120.2 283.14,120.0 283.31,121.8 283.48,121.5 283.65,122.4 283.82,122.0 283.99,120.9 284.16,121.8 284.33,121.7 284.50,121.0 284.67,121.1 284.84,122.6 285.01,122.4 285.18,121.7 285.35,120.9 285.52,121.2 285.69,121.7 285.86,122.5 286.03,121.6 286.20,122.5 286.37,121.5 286.54,122.2 286.71,122.6 286.88,121.9 287.05,122.1 287.22,121.1 287.39,121.3 287.56,122.8 287.73,121.3 287.90,121.5 288.07,122.4 288.24,123.6 288.41,123.9 288.58,123.4 288.75,122.5 288.92,122.1 289.09,122.7 289.26,121.8 289.43,122.4 289.60,123.4 289.77,123.1 289.94,123.8 290.11,122.1 290.28,122.3 290.45,123.1 290.62,121.8 290.79,121.8 290.96,123.8 291.13,122.2 291.30,123.7 291.47,122.6 291.64,124.0 291.81,124.0 291.98,122.8 292.15,122.2 292.32,123.9 292.49,123.0 292.66,122.9 292.83,123.8 293.00,122.9 293.17,122.5 293.34,123.9 293.51,123.7 293.68,123.8 293.85,122.6 294.02,124.4 294.19,123.3 294.36,123.0 294.53,122.7 294.70,124.6 294.87,124.4 295.04,125.0 295.21,122.7 295.38,122.5 295.55,124.6 295.72,122.9 295.89,123.0 296.06,122.5 296.23,123.5 296.40,122.8 296.57,122.6 296.74,125.1 296.91,123.2 297.08,123.9 297.25,123.7 297.42,125.4 297.59,125.3 297.76,125.7 297.93,124.5 298.10,125.2 298.27,125.2 298.44,125.2 298.61,123.4 298.78,124.3 298.95,124.7 299.12,123.8 299.29,125.1 299.46,124.9 299.63,125.4 299.80,125.4 299.97,124.7 300.14,123.9 300.31,124.2 300.48,124.8 300.65,125.9 300.82,123.9 300.99,125.4 301.16,124.0 301.33,124.9 301.50,125.8 301.67,124.7 301.84,124.2 302.01,124.5 302.18,125.7 302.35,125.5 302.52,125.4 302.69,124.3 302.86,125.7 303.03,125.9 303.20,125.0 303.37,124.6 303.54,125.5 303.71,126.0 303.88,125.2 304.05,125.4 304.22,125.8 304.39,126.2 304.56,123.9 304.73,125.4 304.90,123.8 305.07,124.4 305.24,125.5 305.41,124.3 305.58,125.6 305.75,125.9 305.92,125.7 306.09,126.1 306.26,125.6 306.43,125.4 306.60,126.7 306.77,125.0 306.94,124.6 307.11,125.5 307.28,125.8 307.45,125.2 307.62,126.7 307.79,125.1 307.96,124.7 308.13,125.7 308.30,125.0 308.47,126.2 308.64,125.5 308.81,125.8 308.98,126.8 309.15,126.9 309.32,125.4 309.49,126.7 309.66,126.7 309.83,126.2 310.00,126.2 310.17,126.8 310.34,127.2 310.51,127.3 310.68,127.5 310.85,126.8 311.02,126.2 311.19,127.5 311.36,126.0 311.53,125.6 311.70,125.8 311.87,125.5 312.04,126.3 312.21,126.1 312.38,127.4 312.55,127.1 312.72,127.0 312.89,126.7 313.06,125.3 313.23,125.3 313.40,127.1 313.57,127.1 313.74,125.4 313.91,126.5 314.08,126.3 314.25,127.1 314.42,126.8 314.59,126.8 314.76,127.1 314.93,127.5 315.10,127.7 315.27,126.7 315.44,126.4 315.61,127.7 315.78,125.5 315.95,127.4 316.12,125.5 316.29,126.1 316.46,127.7 316.63,126.1 316.80,125.6 316.97,126.0 317.14,128.3 317.31,127.0 317.48,127.0 317.65,128.4 317.82,128.3 317.99,126.7 318.16,126.3 318.33,128.3 318.50,126.9 318.67,127.1 318.84,126.2 319.01,126.8 319.18,128.0 319.35,128.0 319.52,126.1 319.69,127.4 319.86,126.3 320.03,127.4 320.20,128.4 320.37,127.1 320.54,128.1 320.71,127.1 320.88,127.3 321.05,128.1 321.22,127.2 321.39,126.8 321.56,127.0 321.73,128.1 321.90,127.2 322.07,127.7 322.24,126.7 322.41,127.6 322.58,126.0 322.75,125.9 322.92,126.3 323.09,127.7 323.26,126.0 323.43,126.7 323.60,128.2 323.77,126.3 323.94,126.2 324.11,126.6 324.28,127.4 324.45,128.5 324.62,126.4 324.79,127.8 324.96,126.5 325.13,129.1 325.30,127.8 325.47,128.5 325.64,127.4 325.81,128.1 325.98,129.0 326.15,127.2 326.32,127.5 326.49,127.7 326.66,129.0 326.83,129.2 327.00,128.7 327.17,127.4 327.34,127.6 327.51,128.7 327.68,128.0 327.85,127.9 328.02,129.7 328.19,127.9 328.36,129.5 328.53,128.0 328.70,130.0 328.87,128.3 329.04,129.9 329.21,129.2 329.38,129.5 329.55,128.8 329.72,127.4 329.89,128.1 330.06,129.6 330.23,127.4 330.40,128.5 330.57,128.6 330.74,128.4 330.91,128.0 331.08,128.2 331.25,127.9 331.42,128.1 331.59,127.6 331.76,129.5 331.93,130.0 332.10,128.3 332.27,127.9 332.44,128.8 332.61,128.1 332.78,128.9 332.95,128.4 333.12,129.2 333.29,129.6 333.46,130.0 333.63,129.5 333.80,129.8 333.97,130.3 334.14,128.8 334.31,128.1 334.48,128.2 334.65,128.9 334.82,129.5 334.99,129.8 335.16,128.1 335.33,129.0 335.50,127.8 335.67,129.2 335.84,130.0 336.01,128.7 336.18,129.6 336.35,129.6 336.52,129.8 336.69,128.7 336.86,129.7 337.03,128.6 337.20,129.7 337.37,128.8 337.54,131.1 337.71,129.5 337.88,129.2 338.05,130.9 338.22,129.7 338.39,130.0 338.56,130.9 338.73,130.1 338.90,129.7 339.07,130.6 339.24,129.5 339.41,129.1 339.58,130.6 339.75,130.0 339.92,131.3 340.09,130.2 340.26,131.1 340.43,128.9 340.60,128.8 340.77,129.7 340.94,130.9 341.11,130.0 341.28,130.3 341.45,129.7 341.62,129.8 341.79,129.8 341.96,129.8 342.13,129.3 342.30,131.0 342.47,130.1 342.64,131.7 342.81,130.8 342.98,129.6 343.15,129.9 343.32,129.5 343.49,130.9 343.66,129.6 343.83,130.4 344.00,130.1 344.17,130.0 344.34,131.3 344.51,130.5 344.68,130.0 344.85,129.7 345.02,130.1 345.19,130.0 345.36,131.3 345.53,131.6 345.70,131.3 345.87,131.6 346.04,131.7 346.21,131.2 346.38,130.2 346.55,131.4 346.72,129.9 346.89,131.2 347.06,130.5 347.23,131.9 347.40,131.8 347.57,130.9 347.74,131.5 347.91,131.8 348.08,131.3 348.25,130.7 348.42,130.4 348.59,132.4 348.76,130.5 348.93,130.8 349.10,132.4 349.27,130.5 349.44,130.8 349.61,131.5 349.78,130.9 349.95,130.6 350.12,132.5 350.29,130.8 350.46,132.7 350.63,130.4 350.80,131.0 350.97,131.8 351.14,130.6 351.31,131.6 351.48,131.6 351.65,131.9 351.82,132.8 351.99,131.5 352.16,132.9 352.33,131.2 352.50,132.4 352.67,131.9 352.84,132.8 353.01,132.1 353.18,132.9 353.35,131.0 353.52,131.2 353.69,131.9 353.86,132.1 354.03,131.5 354.20,132.7 354.37,131.7 354.54,133.3 354.71,133.4 354.88,131.2 355.05,132.7 355.22,133.3 355.39,131.1 355.56,132.9 355.73,132.4 355.90,132.3 356.07,131.8 356.24,133.1 356.41,131.8 356.58,131.8 356.75,132.3 356.92,134.0 357.09,132.4 357.26,131.6 357.43,132.2 357.60,133.1 357.77,132.7 357.94,132.9 358.11,133.3 358.28,132.0 358.45,132.3 358.62,133.8 358.79,132.7 358.96,133.2 359.13,134.2 359.30,133.7 359.47,134.4 359.64,132.1 359.81,133.6 359.98,133.2 360.15,132.9 360.32,132.6 360.49,132.8 360.66,134.0 360.83,133.1 361.00,132.5 361.17,133.8 361.34,134.2 361.51,133.1 361.68,132.3 361.85,133.8 362.02,133.6 362.19,133.5 362.36,131.7 362.53,131.9 362.70,134.2 362.87,133.1 363.04,132.5 363.21,132.1 363.38,133.4 363.55,133.2 363.72,133.0 363.89,134.4 364.06,133.3 364.23,135.3 364.40,133.4 364.57,135.0 364.74,133.5 364.91,133.2 365.08,134.3 365.25,133.5 365.42,132.5 365.59,134.3 365.76,133.5 365.93,133.5 366.10,133.0 366.27,134.1 366.44,133.5 366.61,132.2 366.78,134.3 366.95,133.5 367.12,132.8 367.29,132.3 367.46,132.3 367.63,132.6 367.80,133.0 367.97,133.7 368.14,133.0 368.31,134.5 368.48,133.8 368.65,133.6 368.82,133.7 368.99,133.3 369.16,134.1 369.33,133.4 369.50,133.6 369.67,134.2 369.84,134.5 370.01,133.7 370.18,134.8 370.35,133.9 370.52,135.3 370.69,133.4 370.86,134.5 371.03,133.9 371.20,134.2 371.37,133.2 371.54,133.8 371.71,133.5 371.88,134.8 372.05,135.2 372.22,135.4 372.39,135.8 372.56,134.5 372.73,135.2 372.90,136.0 373.07,134.8 373.24,134.8 373.41,135.2 373.58,133.6 373.75,135.8 373.92,134.7 374.09,135.7 374.26,134.1 374.43,135.1 374.60,135.3 374.77,135.8 374.94,135.4 375.11,135.4 375.28,136.2 375.45,134.6 375.62,135.1 375.79,136.3 375.96,135.2 376.13,135.7 376.30,135.5 376.47,136.8 376.64,136.1 376.81,136.4 376.98,134.6 377.15,135.6 377.32,136.6 377.49,135.2 377.66,136.9 377.83,137.3 378.00,136.8 378.17,136.7 378.34,135.4 378.51,135.0 378.68,137.1 378.85,135.8 379.02,137.1 379.19,136.5 379.36,137.2 379.53,134.9 379.70,136.9 379.87,136.7 380.04,136.3 380.21,135.3 380.38,135.4 380.55,137.3 380.72,135.8 380.89,136.7 381.06,137.2 381.23,135.2 381.40,134.7 381.57,134.7 381.74,135.7 381.91,136.8 382.08,136.9 382.25,136.4 382.42,135.1 382.59,135.9 382.76,135.8 382.93,136.1 383.10,136.2 383.27,136.1 383.44,137.4 383.61,136.9 383.78,136.9 383.95,136.6 384.12,137.8 384.29,136.3 384.46,135.9 384.63,136.1 384.80,136.0 384.97,136.3 385.14,136.5 385.31,136.2 385.48,137.3 385.65,136.2 385.82,138.1 385.99,138.1 386.16,137.0 386.33,137.6 386.50,136.2 386.67,136.4 386.84,138.0 387.01,136.8 387.18,137.5 387.35,137.7 387.52,137.5 387.69,136.9 387.86,136.8 388.03,136.1 388.20,138.3 388.37,138.0 388.54,136.5 388.71,138.6 388.88,137.3 389.05,138.9 389.22,137.1 389.39,136.7 389.56,138.9 389.73,138.9 389.90,137.8 390.07,138.9 390.24,136.7 390.41,136.8 390.58,138.8 390.75,138.7 390.92,138.0 391.09,136.9 391.26,137.9 391.43,136.0 391.60,136.9 391.77,138.1 391.94,136.5 392.11,136.3 392.28,137.3 392.45,137.9 392.62,137.0 392.79,138.5 392.96,138.8 393.13,137.1 393.30,137.7 393.47,139.0 393.64,138.2 393.81,138.9 393.98,137.9 394.15,139.3 394.32,139.4 394.49,139.3 394.66,139.6 394.83,138.3 395.00,138.6 395.17,139.3 395.34,139.0 395.51,138.4 395.68,137.0 395.85,137.4 396.02,137.9 396.19,138.7 396.36,139.1 396.53,139.5 396.70,138.1 396.87,139.8 397.04,138.5 397.21,138.1 397.38,140.0 397.55,137.9 397.72,138.8 397.89,139.6 398.06,139.2 398.23,139.8 398.40,139.0 398.57,138.7 398.74,138.4 398.91,139.1 399.08,138.9 399.25,138.7 399.42,139.1 399.59,138.7 399.76,139.2 399.93,138.7 400.10,139.4 400.27,138.0 400.44,138.4 400.61,138.3 400.78,139.8 400.95,139.0 401.12,140.0 401.29,139.0 401.46,140.0 401.63,139.6 401.80,140.0 401.97,138.5 402.14,140.4 402.31,138.6 402.48,139.8 402.65,139.5 402.82,138.8 402.99,138.2 403.16,138.0 403.33,138.0 403.50,139.4 403.67,139.4 403.84,138.3 404.01,138.1 404.18,138.1 404.35,139.5 404.52,139.9 404.69,140.2 404.86,139.1 405.03,139.9 405.20,138.6 405.37,138.2 405.54,139.6 405.71,139.0 405.88,139.2 406.05,138.5 406.22,140.0 406.39,140.5 406.56,140.1 406.73,138.4 406.90,138.8 407.07,138.5 407.24,140.5 407.41,138.9 407.58,138.3 407.75,140.1 407.92,138.6 408.09,138.5 408.26,139.5 408.43,138.9 408.60,140.1 408.77,140.1 408.94,139.8 409.11,140.3 409.28,140.8 409.45,139.6 409.62,139.4 409.79,140.3 409.96,139.8 410.13,139.4 410.30,141.2 410.47,139.3 410.64,139.9 410.81,139.6 410.98,140.9 411.15,140.5 411.32,141.1 411.49,139.4 411.66,140.8 411.83,140.4 412.00,138.9 412.17,139.3 412.34,140.9 412.51,139.9 412.68,139.2 412.85,139.1 413.02,139.5 413.19,140.4 413.36,139.1 413.53,139.1 413.70,141.0 413.87,139.5 414.04,140.7 414.21,141.2 414.38,141.0 414.55,140.8 414.72,140.3 414.89,140.9 415.06,140.0 415.23,140.9 415.40,140.7 415.57,139.2 415.74,139.0 415.91,140.8 416.08,140.4 416.25,140.8 416.42,141.1 416.59,140.6 416.76,139.8 416.93,141.0 417.10,140.3 417.27,140.9 417.44,139.8 417.61,142.3 417.78,140.3 417.95,142.5 418.12,141.9 418.29,140.8 418.46,141.1 418.63,140.1 418.80,139.4 418.97,140.5 419.14,139.4 419.31,139.6 419.48,139.3 419.65,140.5 419.82,140.7 419.99,141.4 420.16,139.5 420.33,141.0 420.50,140.3 420.67,138.9 420.84,139.8 421.01,141.5 421.18,141.0 421.35,141.0 421.52,141.2 421.69,142.0 421.86,141.1 422.03,140.1 422.20,140.0 422.37,141.3 422.54,140.3 422.71,142.2 422.88,142.2 423.05,141.0 423.22,141.1 423.39,139.7 423.56,141.5 423.73,140.4 423.90,141.3 424.07,140.4 424.24,141.4 424.41,139.6 424.58,141.8 424.75,141.1 424.92,140.3 425.09,140.6 425.26,140.2 425.43,141.1 425.60,142.2 425.77,141.3 425.94,141.0 426.11,141.4 426.28,141.3 426.45,141.4 426.62,141.7 426.79,142.3 426.96,142.3 427.13,140.5 427.30,142.9 427.47,141.5 427.64,141.7 427.81,141.9 427.98,143.0 428.15,140.7 428.32,142.8 428.49,142.4 428.66,142.0 428.83,141.7 429.00,142.1 429.17,142.7 429.34,142.1 429.51,143.3 429.68,142.4 429.85,142.0 430.02,143.0 430.19,140.6 430.36,142.7 430.53,141.5 430.70,140.5 430.87,141.9 431.04,140.7 431.21,141.3 431.38,141.4 431.55,142.5 431.72,141.8 431.89,141.2 432.06,141.8 432.23,141.8 432.40,140.5 432.57,141.1 432.74,140.6 432.91,140.4 433.08,140.9 433.25,140.2 433.42,140.6 433.59,140.7 433.76,141.7 433.93,141.5 434.10,140.7 434.27,143.1 434.44,142.6 434.61,142.5 434.78,142.4 434.95,142.6 435.12,141.2 435.29,142.5 435.46,141.4 435.63,140.9 435.80,141.1 435.97,142.5 436.14,141.5 436.31,142.7 436.48,143.1 436.65,142.9 436.82,141.7 436.99,141.9 437.16,142.0 437.33,140.6 437.50,142.4 437.67,142.6 437.84,141.2 438.01,141.7 438.18,142.6 438.35,143.5 438.52,142.0 438.69,143.5 438.86,141.4 439.03,142.8 439.20,142.2 439.37,143.7 439.54,142.0 439.71,141.7 439.88,142.4 440.05,143.3 440.22,143.2 440.39,142.2 440.56,143.2 440.73,141.7 440.90,142.6 441.07,143.7 441.24,141.9 441.41,142.1 441.58,142.4 441.75,142.0 441.92,142.8 442.09,142.4 442.26,142.8 442.43,141.4 442.60,143.5 442.77,142.4 442.94,141.6 443.11,143.1 443.28,142.0 443.45,142.1 443.62,143.6 443.79,141.8 443.96,144.2 444.13,142.4 444.30,143.4 444.47,142.1 444.64,144.4 444.81,144.2 444.98,143.4 445.15,142.4 445.32,142.6 445.49,143.1 445.66,142.3 445.83,143.1 446.00,144.0 446.17,142.0 446.34,142.4 446.51,144.2 446.68,144.0 446.85,141.9 447.02,142.1 447.19,143.5 447.36,144.0 447.53,144.4 447.70,142.2 447.87,143.1 448.04,143.2 448.21,144.2 448.38,143.3 448.55,142.2 448.72,142.5 448.89,143.7 449.06,142.8 449.23,143.9 449.40,144.1 449.57,143.8 449.74,144.0 449.91,142.4 450.08,144.0 450.25,142.2 450.42,143.3 450.59,142.3 450.76,142.9 450.93,144.0 451.10,144.1 451.27,144.3 451.44,143.9 451.61,143.7 451.78,144.5 451.95,142.7 452.12,142.7 452.29,144.9 452.46,144.5 452.63,143.7 452.80,143.2 452.97,145.0 453.14,142.9 453.31,143.0 453.48,144.7 453.65,144.2 453.82,144.5 453.99,144.7 454.16,144.8 454.33,143.4 454.50,143.1 454.67,143.9" stroke="#ffc000"/>
<polyline points="454.67,143.9 455.00,208.8" stroke="#ffc000" stroke-width="1.2"/>
<polyline points="455.00,208.8 455.02,208.6 455.04,208.5 455.06,208.3 455.07,208.2 455.09,208.1 455.11,207.8 455.13,207.8 455.15,207.6 455.17,207.4 455.19,207.3 455.20,207.1 455.22,207.0 455.24,207.0 455.26,206.7 455.28,206.6 455.30,206.3 455.32,206.4 455.33,206.1 455.35,205.9 455.37,205.9 455.39,205.7 455.41,205.5 455.43,205.4 455.45,205.1 455.47,205.1 455.48,204.8 455.50,204.7 455.52,204.7 455.54,204.6 455.56,204.4 455.58,204.1 455.60,204.1 455.64,203.7 455.69,203.6 455.74,203.6 455.79,203.5 455.84,203.3 455.89,203.4 455.94,203.0 455.99,202.8 456.04,202.7 456.09,202.5 456.14,202.6 456.19,202.2 456.24,202.2 456.29,201.8 456.34,202.0 456.39,201.7 456.44,201.8 456.49,201.3 456.54,201.3 456.59,201.4 456.64,201.2 456.69,200.8 456.74,200.6 456.79,200.8 456.82,201.0 456.86,200.8 456.89,201.1 456.93,201.2 456.96,201.5 457.00,201.4 457.03,201.4 457.07,201.6 457.10,202.0 457.13,201.9 457.17,202.2 457.20,202.4 457.24,202.6 457.27,202.6 457.31,202.7 457.34,203.0 457.37,203.1 457.41,203.4 457.44,203.4 457.48,203.5 457.51,203.6 457.55,203.6 457.58,204.0 457.61,204.0 457.62,204.1 457.64,204.4 457.65,204.6 457.67,204.7 457.68,204.8 457.70,204.9 457.71,205.1 457.73,205.2 457.74,205.4 457.76,205.6 457.77,205.7 457.79,205.8 457.80,206.0 457.82,206.1 457.83,206.3 457.85,206.5 457.86,206.6 457.88,206.8 457.89,207.0 457.90,207.1 457.92,207.2 457.93,207.3 457.95,207.5 457.96,207.7 457.98,207.8 457.99,207.9 458.01,208.0 458.02,208.3 458.04,208.4 458.05,208.5 458.07,208.7 458.08,208.8 458.10,209.0 458.11,209.1 458.13,209.4 458.14,209.4 458.16,209.6 458.17,209.8 458.19,209.9 458.20,210.0 458.22,210.2 458.23,210.4 458.25,210.4 458.26,210.6 458.28,210.8 458.29,210.9 458.31,211.1 458.32,211.3 458.34,211.3 458.35,211.5 458.37,211.6 458.38,211.8 458.40,212.0 458.41,212.1 458.43,212.3 458.44,212.4 458.46,212.6 458.47,212.7 458.49,212.8 458.50,212.9 458.52,213.2 458.53,213.3 458.55,213.4 458.56,213.6 458.58,213.7 458.59,214.0 458.61,214.0 458.62,214.1 458.64,214.4 458.65,214.5 458.67,214.6 458.68,214.8 458.70,214.9 458.71,215.2 458.73,215.3 458.74,215.3 458.76,215.5 458.77,215.7 458.79,215.9 458.80,216.1 458.83,216.3 458.86,216.4 458.89,216.5 458.92,216.7 458.95,216.9 458.98,217.0 459.01,217.0 459.04,217.3 459.07,217.4 459.10,217.4 459.12,217.5 459.15,217.9 459.18,217.6 459.23,218.3 459.30,218.0 459.37,217.4 459.44,217.8 459.51,217.5 459.58,217.6 459.65,217.5 459.72,216.7 459.80,216.7 459.87,217.0 459.94,216.6 460.01,216.0 460.16,216.6 460.31,216.3 460.46,216.4 460.60,216.0 460.75,216.8 460.90,217.2 461.04,216.5 461.19,216.4 461.34,217.4 461.49,217.0 461.53,217.1 461.57,217.2 461.61,217.1 461.64,217.4 461.68,217.4 461.71,217.5 461.75,217.9 461.79,217.8" stroke="#ffc000" stroke-width="1.6"/>
</g>
<text class="serif" x="275" y="28" text-anchor="middle" font-size="14.3" font-weight="bold" fill="#000" textLength="374" lengthAdjust="spacingAndGlyphs">Number of moles of free gas vs Time (4 single rt experiments)</text>
<g class="serif" font-size="9.7" fill="#000" stroke="#000" stroke-width="0.1">
<text x="65.5" y="44.7" text-anchor="end" textLength="27.3" lengthAdjust="spacingAndGlyphs">0.0081</text>
<text x="65.5" y="74.3" text-anchor="end" textLength="27.3" lengthAdjust="spacingAndGlyphs">0.0079</text>
<text x="65.5" y="103.9" text-anchor="end" textLength="27.3" lengthAdjust="spacingAndGlyphs">0.0077</text>
<text x="65.5" y="133.5" text-anchor="end" textLength="27.3" lengthAdjust="spacingAndGlyphs">0.0075</text>
<text x="65.5" y="163.2" text-anchor="end" textLength="27.3" lengthAdjust="spacingAndGlyphs">0.0073</text>
<text x="65.5" y="192.8" text-anchor="end" textLength="27.3" lengthAdjust="spacingAndGlyphs">0.0071</text>
<text x="65.5" y="222.4" text-anchor="end" textLength="27.3" lengthAdjust="spacingAndGlyphs">0.0069</text>
<text x="65.5" y="252.0" text-anchor="end" textLength="27.3" lengthAdjust="spacingAndGlyphs">0.0067</text>
<text x="65.5" y="281.6" text-anchor="end" textLength="27.3" lengthAdjust="spacingAndGlyphs">0.0065</text>
<text x="74.5" y="292.6" text-anchor="middle" textLength="4.9" lengthAdjust="spacingAndGlyphs">0</text>
<text x="130.1" y="292.6" text-anchor="middle" textLength="19.7" lengthAdjust="spacingAndGlyphs">1000</text>
<text x="185.8" y="292.6" text-anchor="middle" textLength="19.7" lengthAdjust="spacingAndGlyphs">2000</text>
<text x="241.4" y="292.6" text-anchor="middle" textLength="19.7" lengthAdjust="spacingAndGlyphs">3000</text>
<text x="297.0" y="292.6" text-anchor="middle" textLength="19.7" lengthAdjust="spacingAndGlyphs">4000</text>
<text x="352.6" y="292.6" text-anchor="middle" textLength="19.7" lengthAdjust="spacingAndGlyphs">5000</text>
<text x="408.2" y="292.6" text-anchor="middle" textLength="19.7" lengthAdjust="spacingAndGlyphs">6000</text>
<text x="463.9" y="292.6" text-anchor="middle" textLength="19.7" lengthAdjust="spacingAndGlyphs">7000</text>
<text x="519.5" y="292.6" text-anchor="middle" textLength="19.7" lengthAdjust="spacingAndGlyphs">8000</text>
</g>
<text class="serif" x="297.3" y="308.5" text-anchor="middle" font-size="12.6" font-weight="bold" fill="#000" textLength="44.5" lengthAdjust="spacingAndGlyphs">Time (s)</text>
<text class="serif" transform="translate(34.2 160.9) rotate(-90)" text-anchor="middle" font-size="12.4" font-weight="bold" fill="#000" textLength="185.2" lengthAdjust="spacingAndGlyphs">Number of moles of free gas (mole)</text>
<rect x="77.4" y="320.4" width="395.6" height="18.4" fill="#bfbfbf"/>
<g class="sans" font-size="11.6" fill="#0d0d0d">
<line x1="92" y1="329.6" x2="106.4" y2="329.6" stroke="#2196d8" stroke-width="1.1"/>
<text x="108.4" y="333.7" textLength="62.6" lengthAdjust="spacingAndGlyphs">Moles(rt-fb)</text>
<line x1="186.4" y1="329.6" x2="201" y2="329.6" stroke="#f57d28" stroke-width="1.1"/>
<text x="202.4" y="333.7" textLength="66.0" lengthAdjust="spacingAndGlyphs">Moles(rt-hb)</text>
<line x1="283" y1="329.6" x2="297.6" y2="329.6" stroke="#a6a6a6" stroke-width="1.1"/>
<text x="299" y="333.7" textLength="64.4" lengthAdjust="spacingAndGlyphs">Moles(rt-sb)</text>
<line x1="377.6" y1="329.6" x2="392" y2="329.6" stroke="#ffc000" stroke-width="1.1"/>
<text x="393.6" y="333.7" textLength="66.0" lengthAdjust="spacingAndGlyphs">Moles(rt-nb)</text>
</g>
</svg>
</body>
</html>
